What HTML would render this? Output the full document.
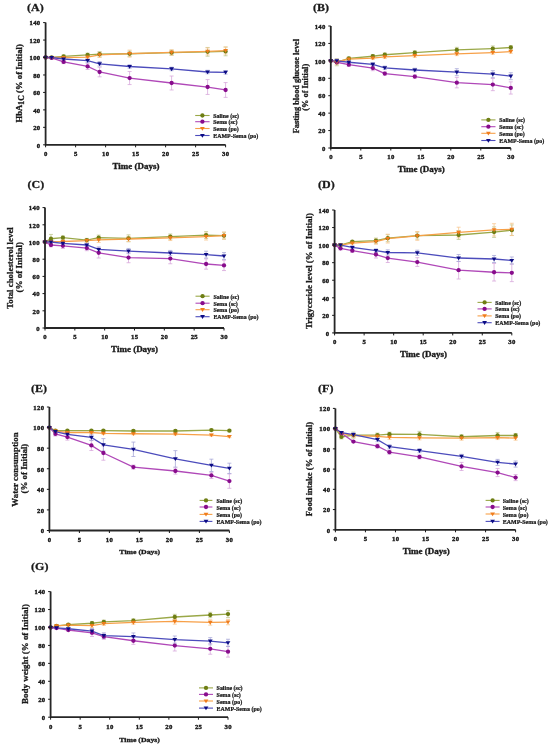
<!DOCTYPE html>
<html><head><meta charset="utf-8"><style>
html,body{margin:0;padding:0;background:#fff}
svg{display:block;filter:blur(0.3px)}
text{font-family:'Liberation Serif',serif;font-weight:bold;fill:#1a1a1a}
</style></head><body>
<svg width="550" height="749" viewBox="0 0 550 749">
<rect width="550" height="749" fill="#fff"/>
<path d="M63.6 55.07V57.69M61.6 55.07H65.6M61.6 57.69H65.6" stroke="#c0c890" stroke-width="0.8" fill="none"/>
<path d="M87.6 53.15V56.64M85.6 53.15H89.6M85.6 56.64H89.6" stroke="#c0c890" stroke-width="0.8" fill="none"/>
<path d="M99.6 51.58V56.82M97.6 51.58H101.6M97.6 56.82H101.6" stroke="#c0c890" stroke-width="0.8" fill="none"/>
<path d="M129.6 51.14V56.38M127.6 51.14H131.6M127.6 56.38H131.6" stroke="#c0c890" stroke-width="0.8" fill="none"/>
<path d="M171.6 50.09V55.33M169.6 50.09H173.6M169.6 55.33H173.6" stroke="#c0c890" stroke-width="0.8" fill="none"/>
<path d="M207.6 47.48V56.2M205.6 47.48H209.6M205.6 56.2H209.6" stroke="#c0c890" stroke-width="0.8" fill="none"/>
<path d="M225.6 47.04V55.77M223.6 47.04H227.6M223.6 55.77H227.6" stroke="#c0c890" stroke-width="0.8" fill="none"/>
<path d="M51.6 57.08V58.82M49.6 57.08H53.6M49.6 58.82H53.6" stroke="#d8a8dc" stroke-width="0.8" fill="none"/>
<path d="M63.6 60.13V63.62M61.6 60.13H65.6M61.6 63.62H65.6" stroke="#d8a8dc" stroke-width="0.8" fill="none"/>
<path d="M87.6 63.36V69.47M85.6 63.36H89.6M85.6 69.47H89.6" stroke="#d8a8dc" stroke-width="0.8" fill="none"/>
<path d="M99.6 67.2V76.8M97.6 67.2H101.6M97.6 76.8H101.6" stroke="#d8a8dc" stroke-width="0.8" fill="none"/>
<path d="M129.6 71.48V84.57M127.6 71.48H131.6M127.6 84.57H131.6" stroke="#d8a8dc" stroke-width="0.8" fill="none"/>
<path d="M171.6 76.02V89.98M169.6 76.02H173.6M169.6 89.98H173.6" stroke="#d8a8dc" stroke-width="0.8" fill="none"/>
<path d="M207.6 79.6V94.44M205.6 79.6H209.6M205.6 94.44H209.6" stroke="#d8a8dc" stroke-width="0.8" fill="none"/>
<path d="M225.6 82.57V97.4M223.6 82.57H227.6M223.6 97.4H227.6" stroke="#d8a8dc" stroke-width="0.8" fill="none"/>
<path d="M63.6 56.2V58.82M61.6 56.2H65.6M61.6 58.82H65.6" stroke="#f8c890" stroke-width="0.8" fill="none"/>
<path d="M87.6 55.33V58.82M85.6 55.33H89.6M85.6 58.82H89.6" stroke="#f8c890" stroke-width="0.8" fill="none"/>
<path d="M99.6 52.28V57.51M97.6 52.28H101.6M97.6 57.51H101.6" stroke="#f8c890" stroke-width="0.8" fill="none"/>
<path d="M129.6 50.09V57.08M127.6 50.09H131.6M127.6 57.08H131.6" stroke="#f8c890" stroke-width="0.8" fill="none"/>
<path d="M171.6 49.83V55.07M169.6 49.83H173.6M169.6 55.07H173.6" stroke="#f8c890" stroke-width="0.8" fill="none"/>
<path d="M207.6 47.91V54.9M205.6 47.91H209.6M205.6 54.9H209.6" stroke="#f8c890" stroke-width="0.8" fill="none"/>
<path d="M225.6 47.04V54.02M223.6 47.04H227.6M223.6 54.02H227.6" stroke="#f8c890" stroke-width="0.8" fill="none"/>
<path d="M63.6 57.69V60.31M61.6 57.69H65.6M61.6 60.31H65.6" stroke="#a8a8d8" stroke-width="0.8" fill="none"/>
<path d="M87.6 58.91V62.4M85.6 58.91H89.6M85.6 62.4H89.6" stroke="#a8a8d8" stroke-width="0.8" fill="none"/>
<path d="M99.6 61.62V65.98M97.6 61.62H101.6M97.6 65.98H101.6" stroke="#a8a8d8" stroke-width="0.8" fill="none"/>
<path d="M129.6 64.76V68.25M127.6 64.76H131.6M127.6 68.25H131.6" stroke="#a8a8d8" stroke-width="0.8" fill="none"/>
<path d="M171.6 67.2V70.69M169.6 67.2H173.6M169.6 70.69H173.6" stroke="#a8a8d8" stroke-width="0.8" fill="none"/>
<path d="M207.6 70.26V73.75M205.6 70.26H209.6M205.6 73.75H209.6" stroke="#a8a8d8" stroke-width="0.8" fill="none"/>
<path d="M225.6 70.61V74.1M223.6 70.61H227.6M223.6 74.1H227.6" stroke="#a8a8d8" stroke-width="0.8" fill="none"/>
<polyline points="45.6,57.51 51.6,57.51 63.6,56.38 87.6,54.9 99.6,54.2 129.6,53.76 171.6,52.71 207.6,51.84 225.6,51.4" stroke="#9aa848" stroke-width="1.3" fill="none"/>
<polyline points="45.6,57.51 51.6,57.95 63.6,61.88 87.6,66.42 99.6,72 129.6,78.03 171.6,83 207.6,87.02 225.6,89.98" stroke="#b048b8" stroke-width="1.3" fill="none"/>
<polyline points="45.6,57.51 51.6,57.51 63.6,57.51 87.6,57.08 99.6,54.9 129.6,53.59 171.6,52.45 207.6,51.4 225.6,50.53" stroke="#f7a048" stroke-width="1.3" fill="none"/>
<polyline points="45.6,57.51 51.6,57.51 63.6,59 87.6,60.66 99.6,63.8 129.6,66.5 171.6,68.95 207.6,72 225.6,72.35" stroke="#4c4cbc" stroke-width="1.3" fill="none"/>
<circle cx="45.6" cy="57.51" r="2.15" fill="#6e7e14"/>
<circle cx="51.6" cy="57.51" r="2.15" fill="#6e7e14"/>
<circle cx="63.6" cy="56.38" r="2.15" fill="#6e7e14"/>
<circle cx="87.6" cy="54.9" r="2.15" fill="#6e7e14"/>
<circle cx="99.6" cy="54.2" r="2.15" fill="#6e7e14"/>
<circle cx="129.6" cy="53.76" r="2.15" fill="#6e7e14"/>
<circle cx="171.6" cy="52.71" r="2.15" fill="#6e7e14"/>
<circle cx="207.6" cy="51.84" r="2.15" fill="#6e7e14"/>
<circle cx="225.6" cy="51.4" r="2.15" fill="#6e7e14"/>
<circle cx="45.6" cy="57.51" r="2.15" fill="#880c8c"/>
<circle cx="51.6" cy="57.95" r="2.15" fill="#880c8c"/>
<circle cx="63.6" cy="61.88" r="2.15" fill="#880c8c"/>
<circle cx="87.6" cy="66.42" r="2.15" fill="#880c8c"/>
<circle cx="99.6" cy="72" r="2.15" fill="#880c8c"/>
<circle cx="129.6" cy="78.03" r="2.15" fill="#880c8c"/>
<circle cx="171.6" cy="83" r="2.15" fill="#880c8c"/>
<circle cx="207.6" cy="87.02" r="2.15" fill="#880c8c"/>
<circle cx="225.6" cy="89.98" r="2.15" fill="#880c8c"/>
<path d="M43.2 55.91H48L45.6 59.71Z" fill="#f07c1c"/>
<path d="M49.2 55.91H54L51.6 59.71Z" fill="#f07c1c"/>
<path d="M61.2 55.91H66L63.6 59.71Z" fill="#f07c1c"/>
<path d="M85.2 55.48H90L87.6 59.28Z" fill="#f07c1c"/>
<path d="M97.2 53.3H102L99.6 57.1Z" fill="#f07c1c"/>
<path d="M127.2 51.99H132L129.6 55.79Z" fill="#f07c1c"/>
<path d="M169.2 50.85H174L171.6 54.65Z" fill="#f07c1c"/>
<path d="M205.2 49.8H210L207.6 53.6Z" fill="#f07c1c"/>
<path d="M223.2 48.93H228L225.6 52.73Z" fill="#f07c1c"/>
<path d="M43.2 55.91H48L45.6 59.71Z" fill="#0c0c84"/>
<path d="M49.2 55.91H54L51.6 59.71Z" fill="#0c0c84"/>
<path d="M61.2 57.4H66L63.6 61.2Z" fill="#0c0c84"/>
<path d="M85.2 59.06H90L87.6 62.86Z" fill="#0c0c84"/>
<path d="M97.2 62.2H102L99.6 66Z" fill="#0c0c84"/>
<path d="M127.2 64.9H132L129.6 68.7Z" fill="#0c0c84"/>
<path d="M169.2 67.35H174L171.6 71.15Z" fill="#0c0c84"/>
<path d="M205.2 70.4H210L207.6 74.2Z" fill="#0c0c84"/>
<path d="M223.2 70.75H228L225.6 74.55Z" fill="#0c0c84"/>
<path d="M45.6 22.6V144.8H225.6" stroke="#262626" stroke-width="1.8" fill="none"/>
<text transform="translate(40.53,147.58) scale(0.95,1.0)" text-anchor="end" letter-spacing="0.35" font-size="7.1" stroke="#1a1a1a" stroke-width="0.4">0</text>
<text transform="translate(40.53,130.12) scale(0.95,1.0)" text-anchor="end" letter-spacing="0.35" font-size="7.1" stroke="#1a1a1a" stroke-width="0.4">20</text>
<text transform="translate(40.53,112.66) scale(0.95,1.0)" text-anchor="end" letter-spacing="0.35" font-size="7.1" stroke="#1a1a1a" stroke-width="0.4">40</text>
<text transform="translate(40.53,95.21) scale(0.95,1.0)" text-anchor="end" letter-spacing="0.35" font-size="7.1" stroke="#1a1a1a" stroke-width="0.4">60</text>
<text transform="translate(40.53,77.75) scale(0.95,1.0)" text-anchor="end" letter-spacing="0.35" font-size="7.1" stroke="#1a1a1a" stroke-width="0.4">80</text>
<text transform="translate(40.53,60.29) scale(0.95,1.0)" text-anchor="end" letter-spacing="0.35" font-size="7.1" stroke="#1a1a1a" stroke-width="0.4">100</text>
<text transform="translate(40.53,42.84) scale(0.95,1.0)" text-anchor="end" letter-spacing="0.35" font-size="7.1" stroke="#1a1a1a" stroke-width="0.4">120</text>
<text transform="translate(40.53,25.38) scale(0.95,1.0)" text-anchor="end" letter-spacing="0.35" font-size="7.1" stroke="#1a1a1a" stroke-width="0.4">140</text>
<text transform="translate(45.77,156.18) scale(0.95,1.0)" text-anchor="middle" letter-spacing="0.35" font-size="7.1" stroke="#1a1a1a" stroke-width="0.4">0</text>
<text transform="translate(75.77,156.18) scale(0.95,1.0)" text-anchor="middle" letter-spacing="0.35" font-size="7.1" stroke="#1a1a1a" stroke-width="0.4">5</text>
<text transform="translate(105.77,156.18) scale(0.95,1.0)" text-anchor="middle" letter-spacing="0.35" font-size="7.1" stroke="#1a1a1a" stroke-width="0.4">10</text>
<text transform="translate(135.77,156.18) scale(0.95,1.0)" text-anchor="middle" letter-spacing="0.35" font-size="7.1" stroke="#1a1a1a" stroke-width="0.4">15</text>
<text transform="translate(165.77,156.18) scale(0.95,1.0)" text-anchor="middle" letter-spacing="0.35" font-size="7.1" stroke="#1a1a1a" stroke-width="0.4">20</text>
<text transform="translate(195.77,156.18) scale(0.95,1.0)" text-anchor="middle" letter-spacing="0.35" font-size="7.1" stroke="#1a1a1a" stroke-width="0.4">25</text>
<text transform="translate(225.77,156.18) scale(0.95,1.0)" text-anchor="middle" letter-spacing="0.35" font-size="7.1" stroke="#1a1a1a" stroke-width="0.4">30</text>
<path d="M43.1 144.8H45.6M43.1 127.34H45.6M43.1 109.89H45.6M43.1 92.43H45.6M43.1 74.97H45.6M43.1 57.51H45.6M43.1 40.06H45.6M43.1 22.6H45.6M45.6 144.8V147.3M75.6 144.8V147.3M105.6 144.8V147.3M135.6 144.8V147.3M165.6 144.8V147.3M195.6 144.8V147.3M225.6 144.8V147.3" stroke="#1a1a1a" stroke-width="1" fill="none"/>
<path d="M195.2 115.5H209.6" stroke="#9aa848" stroke-width="1.1"/>
<circle cx="202.4" cy="115.5" r="2.15" fill="#6e7e14"/>
<text transform="translate(213.2,118.03) scale(1.0,0.88)" font-size="5.95" stroke="#1a1a1a" stroke-width="0.25">Saline (sc)</text>
<path d="M195.2 121.7H209.6" stroke="#b048b8" stroke-width="1.1"/>
<circle cx="202.4" cy="121.7" r="2.15" fill="#880c8c"/>
<text transform="translate(213.2,124.23) scale(1.0,0.88)" font-size="5.95" stroke="#1a1a1a" stroke-width="0.25">Sema (sc)</text>
<path d="M195.2 128.5H209.6" stroke="#f7a048" stroke-width="1.1"/>
<path d="M200 126.9H204.8L202.4 130.7Z" fill="#f07c1c"/>
<text transform="translate(213.2,131.03) scale(1.0,0.88)" font-size="5.95" stroke="#1a1a1a" stroke-width="0.25">Sema (po)</text>
<path d="M195.2 135.5H209.6" stroke="#4c4cbc" stroke-width="1.1"/>
<path d="M200 133.9H204.8L202.4 137.7Z" fill="#0c0c84"/>
<text transform="translate(213.2,138.03) scale(1.0,0.88)" font-size="5.95" stroke="#1a1a1a" stroke-width="0.25">EAMP-Sema (po)</text>
<text transform="translate(136,169) scale(1.0,0.88)" text-anchor="middle" font-size="9.0" stroke="#1a1a1a" stroke-width="0.35">Time (Days)</text>
<text transform="translate(22.2,83.4) rotate(-90)" text-anchor="middle" font-size="8.7" stroke="#1a1a1a" stroke-width="0.3">HbA<tspan font-size="7.83" dy="1.9">1C</tspan><tspan dy="-1.9"> (% of Initial)</tspan></text>
<text transform="translate(27.1,11) scale(1.0,0.9)" font-size="12" stroke="#1a1a1a" stroke-width="0.3">(A)</text>
<path d="M336.8 58.77V65.74M334.8 58.77H338.8M334.8 65.74H338.8" stroke="#c0c890" stroke-width="0.8" fill="none"/>
<path d="M348.8 57.11V59.72M346.8 57.11H350.8M346.8 59.72H350.8" stroke="#c0c890" stroke-width="0.8" fill="none"/>
<path d="M372.8 54.5V57.98M370.8 54.5H374.8M370.8 57.98H374.8" stroke="#c0c890" stroke-width="0.8" fill="none"/>
<path d="M384.8 53.01V56.5M382.8 53.01H386.8M382.8 56.5H386.8" stroke="#c0c890" stroke-width="0.8" fill="none"/>
<path d="M414.8 50.84V54.32M412.8 50.84H416.8M412.8 54.32H416.8" stroke="#c0c890" stroke-width="0.8" fill="none"/>
<path d="M456.8 47.35V52.58M454.8 47.35H458.8M454.8 52.58H458.8" stroke="#c0c890" stroke-width="0.8" fill="none"/>
<path d="M492.8 45.96V51.18M490.8 45.96H494.8M490.8 51.18H494.8" stroke="#c0c890" stroke-width="0.8" fill="none"/>
<path d="M510.8 45.78V49.27M508.8 45.78H512.8M508.8 49.27H512.8" stroke="#c0c890" stroke-width="0.8" fill="none"/>
<path d="M336.8 60.51V63.99M334.8 60.51H338.8M334.8 63.99H338.8" stroke="#d8a8dc" stroke-width="0.8" fill="none"/>
<path d="M348.8 62.95V66.43M346.8 62.95H350.8M346.8 66.43H350.8" stroke="#d8a8dc" stroke-width="0.8" fill="none"/>
<path d="M372.8 65.48V70.7M370.8 65.48H374.8M370.8 70.7H374.8" stroke="#d8a8dc" stroke-width="0.8" fill="none"/>
<path d="M384.8 71.84V75.32M382.8 71.84H386.8M382.8 75.32H386.8" stroke="#d8a8dc" stroke-width="0.8" fill="none"/>
<path d="M414.8 74.8V78.29M412.8 74.8H416.8M412.8 78.29H416.8" stroke="#d8a8dc" stroke-width="0.8" fill="none"/>
<path d="M456.8 77.41V87.87M454.8 77.41H458.8M454.8 87.87H458.8" stroke="#d8a8dc" stroke-width="0.8" fill="none"/>
<path d="M492.8 78.46V90.66M490.8 78.46H494.8M490.8 90.66H494.8" stroke="#d8a8dc" stroke-width="0.8" fill="none"/>
<path d="M510.8 81.86V94.06M508.8 81.86H512.8M508.8 94.06H512.8" stroke="#d8a8dc" stroke-width="0.8" fill="none"/>
<path d="M336.8 59.11V64.34M334.8 59.11H338.8M334.8 64.34H338.8" stroke="#f8c890" stroke-width="0.8" fill="none"/>
<path d="M348.8 57.81V60.42M346.8 57.81H350.8M346.8 60.42H350.8" stroke="#f8c890" stroke-width="0.8" fill="none"/>
<path d="M372.8 56.76V59.38M370.8 56.76H374.8M370.8 59.38H374.8" stroke="#f8c890" stroke-width="0.8" fill="none"/>
<path d="M384.8 55.11V58.59M382.8 55.11H386.8M382.8 58.59H386.8" stroke="#f8c890" stroke-width="0.8" fill="none"/>
<path d="M414.8 53.89V57.37M412.8 53.89H416.8M412.8 57.37H416.8" stroke="#f8c890" stroke-width="0.8" fill="none"/>
<path d="M456.8 52.14V55.63M454.8 52.14H458.8M454.8 55.63H458.8" stroke="#f8c890" stroke-width="0.8" fill="none"/>
<path d="M492.8 50.84V54.32M490.8 50.84H494.8M490.8 54.32H494.8" stroke="#f8c890" stroke-width="0.8" fill="none"/>
<path d="M510.8 49.79V53.28M508.8 49.79H512.8M508.8 53.28H512.8" stroke="#f8c890" stroke-width="0.8" fill="none"/>
<path d="M336.8 59.11V62.6M334.8 59.11H338.8M334.8 62.6H338.8" stroke="#a8a8d8" stroke-width="0.8" fill="none"/>
<path d="M348.8 60.51V63.99M346.8 60.51H350.8M346.8 63.99H350.8" stroke="#a8a8d8" stroke-width="0.8" fill="none"/>
<path d="M372.8 62.69V66.17M370.8 62.69H374.8M370.8 66.17H374.8" stroke="#a8a8d8" stroke-width="0.8" fill="none"/>
<path d="M384.8 66.09V69.57M382.8 66.09H386.8M382.8 69.57H386.8" stroke="#a8a8d8" stroke-width="0.8" fill="none"/>
<path d="M414.8 68.26V71.75M412.8 68.26H416.8M412.8 71.75H416.8" stroke="#a8a8d8" stroke-width="0.8" fill="none"/>
<path d="M456.8 68.7V75.67M454.8 68.7H458.8M454.8 75.67H458.8" stroke="#a8a8d8" stroke-width="0.8" fill="none"/>
<path d="M492.8 70.7V77.68M490.8 70.7H494.8M490.8 77.68H494.8" stroke="#a8a8d8" stroke-width="0.8" fill="none"/>
<path d="M510.8 72.71V79.68M508.8 72.71H512.8M508.8 79.68H512.8" stroke="#a8a8d8" stroke-width="0.8" fill="none"/>
<polyline points="330.8,60.86 336.8,62.25 348.8,58.42 372.8,56.24 384.8,54.76 414.8,52.58 456.8,49.96 492.8,48.57 510.8,47.52" stroke="#9aa848" stroke-width="1.3" fill="none"/>
<polyline points="330.8,60.86 336.8,62.25 348.8,64.69 372.8,68.09 384.8,73.58 414.8,76.54 456.8,82.64 492.8,84.56 510.8,87.96" stroke="#b048b8" stroke-width="1.3" fill="none"/>
<polyline points="330.8,60.86 336.8,61.73 348.8,59.11 372.8,58.07 384.8,56.85 414.8,55.63 456.8,53.89 492.8,52.58 510.8,51.53" stroke="#f7a048" stroke-width="1.3" fill="none"/>
<polyline points="330.8,60.86 336.8,60.86 348.8,62.25 372.8,64.43 384.8,67.83 414.8,70.01 456.8,72.19 492.8,74.19 510.8,76.19" stroke="#4c4cbc" stroke-width="1.3" fill="none"/>
<circle cx="330.8" cy="60.86" r="2.15" fill="#6e7e14"/>
<circle cx="336.8" cy="62.25" r="2.15" fill="#6e7e14"/>
<circle cx="348.8" cy="58.42" r="2.15" fill="#6e7e14"/>
<circle cx="372.8" cy="56.24" r="2.15" fill="#6e7e14"/>
<circle cx="384.8" cy="54.76" r="2.15" fill="#6e7e14"/>
<circle cx="414.8" cy="52.58" r="2.15" fill="#6e7e14"/>
<circle cx="456.8" cy="49.96" r="2.15" fill="#6e7e14"/>
<circle cx="492.8" cy="48.57" r="2.15" fill="#6e7e14"/>
<circle cx="510.8" cy="47.52" r="2.15" fill="#6e7e14"/>
<circle cx="330.8" cy="60.86" r="2.15" fill="#880c8c"/>
<circle cx="336.8" cy="62.25" r="2.15" fill="#880c8c"/>
<circle cx="348.8" cy="64.69" r="2.15" fill="#880c8c"/>
<circle cx="372.8" cy="68.09" r="2.15" fill="#880c8c"/>
<circle cx="384.8" cy="73.58" r="2.15" fill="#880c8c"/>
<circle cx="414.8" cy="76.54" r="2.15" fill="#880c8c"/>
<circle cx="456.8" cy="82.64" r="2.15" fill="#880c8c"/>
<circle cx="492.8" cy="84.56" r="2.15" fill="#880c8c"/>
<circle cx="510.8" cy="87.96" r="2.15" fill="#880c8c"/>
<path d="M328.4 59.26H333.2L330.8 63.06Z" fill="#f07c1c"/>
<path d="M334.4 60.13H339.2L336.8 63.93Z" fill="#f07c1c"/>
<path d="M346.4 57.51H351.2L348.8 61.31Z" fill="#f07c1c"/>
<path d="M370.4 56.47H375.2L372.8 60.27Z" fill="#f07c1c"/>
<path d="M382.4 55.25H387.2L384.8 59.05Z" fill="#f07c1c"/>
<path d="M412.4 54.03H417.2L414.8 57.83Z" fill="#f07c1c"/>
<path d="M454.4 52.29H459.2L456.8 56.09Z" fill="#f07c1c"/>
<path d="M490.4 50.98H495.2L492.8 54.78Z" fill="#f07c1c"/>
<path d="M508.4 49.93H513.2L510.8 53.73Z" fill="#f07c1c"/>
<path d="M328.4 59.26H333.2L330.8 63.06Z" fill="#0c0c84"/>
<path d="M334.4 59.26H339.2L336.8 63.06Z" fill="#0c0c84"/>
<path d="M346.4 60.65H351.2L348.8 64.45Z" fill="#0c0c84"/>
<path d="M370.4 62.83H375.2L372.8 66.63Z" fill="#0c0c84"/>
<path d="M382.4 66.23H387.2L384.8 70.03Z" fill="#0c0c84"/>
<path d="M412.4 68.41H417.2L414.8 72.21Z" fill="#0c0c84"/>
<path d="M454.4 70.59H459.2L456.8 74.39Z" fill="#0c0c84"/>
<path d="M490.4 72.59H495.2L492.8 76.39Z" fill="#0c0c84"/>
<path d="M508.4 74.59H513.2L510.8 78.39Z" fill="#0c0c84"/>
<path d="M330.8 26V148H510.8" stroke="#262626" stroke-width="1.8" fill="none"/>
<text transform="translate(325.73,150.78) scale(0.95,1.0)" text-anchor="end" letter-spacing="0.35" font-size="7.1" stroke="#1a1a1a" stroke-width="0.4">0</text>
<text transform="translate(325.73,133.35) scale(0.95,1.0)" text-anchor="end" letter-spacing="0.35" font-size="7.1" stroke="#1a1a1a" stroke-width="0.4">20</text>
<text transform="translate(325.73,115.92) scale(0.95,1.0)" text-anchor="end" letter-spacing="0.35" font-size="7.1" stroke="#1a1a1a" stroke-width="0.4">40</text>
<text transform="translate(325.73,98.49) scale(0.95,1.0)" text-anchor="end" letter-spacing="0.35" font-size="7.1" stroke="#1a1a1a" stroke-width="0.4">60</text>
<text transform="translate(325.73,81.06) scale(0.95,1.0)" text-anchor="end" letter-spacing="0.35" font-size="7.1" stroke="#1a1a1a" stroke-width="0.4">80</text>
<text transform="translate(325.73,63.64) scale(0.95,1.0)" text-anchor="end" letter-spacing="0.35" font-size="7.1" stroke="#1a1a1a" stroke-width="0.4">100</text>
<text transform="translate(325.73,46.21) scale(0.95,1.0)" text-anchor="end" letter-spacing="0.35" font-size="7.1" stroke="#1a1a1a" stroke-width="0.4">120</text>
<text transform="translate(325.73,28.78) scale(0.95,1.0)" text-anchor="end" letter-spacing="0.35" font-size="7.1" stroke="#1a1a1a" stroke-width="0.4">140</text>
<text transform="translate(330.97,159.38) scale(0.95,1.0)" text-anchor="middle" letter-spacing="0.35" font-size="7.1" stroke="#1a1a1a" stroke-width="0.4">0</text>
<text transform="translate(360.97,159.38) scale(0.95,1.0)" text-anchor="middle" letter-spacing="0.35" font-size="7.1" stroke="#1a1a1a" stroke-width="0.4">5</text>
<text transform="translate(390.97,159.38) scale(0.95,1.0)" text-anchor="middle" letter-spacing="0.35" font-size="7.1" stroke="#1a1a1a" stroke-width="0.4">10</text>
<text transform="translate(420.97,159.38) scale(0.95,1.0)" text-anchor="middle" letter-spacing="0.35" font-size="7.1" stroke="#1a1a1a" stroke-width="0.4">15</text>
<text transform="translate(450.97,159.38) scale(0.95,1.0)" text-anchor="middle" letter-spacing="0.35" font-size="7.1" stroke="#1a1a1a" stroke-width="0.4">20</text>
<text transform="translate(480.97,159.38) scale(0.95,1.0)" text-anchor="middle" letter-spacing="0.35" font-size="7.1" stroke="#1a1a1a" stroke-width="0.4">25</text>
<text transform="translate(510.97,159.38) scale(0.95,1.0)" text-anchor="middle" letter-spacing="0.35" font-size="7.1" stroke="#1a1a1a" stroke-width="0.4">30</text>
<path d="M328.3 148H330.8M328.3 130.57H330.8M328.3 113.14H330.8M328.3 95.71H330.8M328.3 78.29H330.8M328.3 60.86H330.8M328.3 43.43H330.8M328.3 26H330.8M330.8 148V150.5M360.8 148V150.5M390.8 148V150.5M420.8 148V150.5M450.8 148V150.5M480.8 148V150.5M510.8 148V150.5" stroke="#1a1a1a" stroke-width="1" fill="none"/>
<path d="M481.3 119.9H495.5" stroke="#9aa848" stroke-width="1.1"/>
<circle cx="488.4" cy="119.9" r="2.15" fill="#6e7e14"/>
<text transform="translate(499.2,122.43) scale(1.0,0.88)" font-size="5.95" stroke="#1a1a1a" stroke-width="0.25">Saline (sc)</text>
<path d="M481.3 126.7H495.5" stroke="#b048b8" stroke-width="1.1"/>
<circle cx="488.4" cy="126.7" r="2.15" fill="#880c8c"/>
<text transform="translate(499.2,129.23) scale(1.0,0.88)" font-size="5.95" stroke="#1a1a1a" stroke-width="0.25">Sema (sc)</text>
<path d="M481.3 133.3H495.5" stroke="#f7a048" stroke-width="1.1"/>
<path d="M486 131.7H490.8L488.4 135.5Z" fill="#f07c1c"/>
<text transform="translate(499.2,135.83) scale(1.0,0.88)" font-size="5.95" stroke="#1a1a1a" stroke-width="0.25">Sema (po)</text>
<path d="M481.3 140.5H495.5" stroke="#4c4cbc" stroke-width="1.1"/>
<path d="M486 138.9H490.8L488.4 142.7Z" fill="#0c0c84"/>
<text transform="translate(499.2,143.03) scale(1.0,0.88)" font-size="5.95" stroke="#1a1a1a" stroke-width="0.25">EAMP-Sema (po)</text>
<text transform="translate(421.2,172) scale(1.0,0.88)" text-anchor="middle" font-size="9.0" stroke="#1a1a1a" stroke-width="0.35">Time (Days)</text>
<text transform="translate(298.9,86.1) rotate(-90)" text-anchor="middle" font-size="8.3" stroke="#1a1a1a" stroke-width="0.3">Fasting blood glucose level</text>
<text transform="translate(307.5,87.3) rotate(-90)" text-anchor="middle" font-size="8.4" stroke="#1a1a1a" stroke-width="0.3">(% of Initial)</text>
<text transform="translate(313.1,11) scale(1.0,0.9)" font-size="12" stroke="#1a1a1a" stroke-width="0.3">(B)</text>
<path d="M50.97 234.43V243.03M48.97 234.43H52.97M48.97 243.03H52.97" stroke="#c0c890" stroke-width="0.8" fill="none"/>
<path d="M62.9 235.98V239.42M60.9 235.98H64.9M60.9 239.42H64.9" stroke="#c0c890" stroke-width="0.8" fill="none"/>
<path d="M86.77 238.39V241.83M84.77 238.39H88.77M84.77 241.83H88.77" stroke="#c0c890" stroke-width="0.8" fill="none"/>
<path d="M98.7 235.12V240.28M96.7 235.12H100.7M96.7 240.28H100.7" stroke="#c0c890" stroke-width="0.8" fill="none"/>
<path d="M128.53 234.86V241.74M126.53 234.86H130.53M126.53 241.74H130.53" stroke="#c0c890" stroke-width="0.8" fill="none"/>
<path d="M170.3 234V239.16M168.3 234H172.3M168.3 239.16H172.3" stroke="#c0c890" stroke-width="0.8" fill="none"/>
<path d="M206.1 231.59V238.47M204.1 231.59H208.1M204.1 238.47H208.1" stroke="#c0c890" stroke-width="0.8" fill="none"/>
<path d="M224 232.2V239.08M222 232.2H226M222 239.08H226" stroke="#c0c890" stroke-width="0.8" fill="none"/>
<path d="M50.97 243.29V246.73M48.97 243.29H52.97M48.97 246.73H52.97" stroke="#d8a8dc" stroke-width="0.8" fill="none"/>
<path d="M62.9 243.29V248.45M60.9 243.29H64.9M60.9 248.45H64.9" stroke="#d8a8dc" stroke-width="0.8" fill="none"/>
<path d="M86.77 245.53V250.69M84.77 245.53H88.77M84.77 250.69H88.77" stroke="#d8a8dc" stroke-width="0.8" fill="none"/>
<path d="M98.7 247.68V258M96.7 247.68H100.7M96.7 258H100.7" stroke="#d8a8dc" stroke-width="0.8" fill="none"/>
<path d="M128.53 252.41V262.73M126.53 252.41H130.53M126.53 262.73H130.53" stroke="#d8a8dc" stroke-width="0.8" fill="none"/>
<path d="M170.3 253.44V263.76M168.3 253.44H172.3M168.3 263.76H172.3" stroke="#d8a8dc" stroke-width="0.8" fill="none"/>
<path d="M206.1 258.86V269.18M204.1 258.86H208.1M204.1 269.18H208.1" stroke="#d8a8dc" stroke-width="0.8" fill="none"/>
<path d="M224 260.23V270.55M222 260.23H226M222 270.55H226" stroke="#d8a8dc" stroke-width="0.8" fill="none"/>
<path d="M50.97 239.85V243.29M48.97 239.85H52.97M48.97 243.29H52.97" stroke="#f8c890" stroke-width="0.8" fill="none"/>
<path d="M62.9 239.76V243.2M60.9 239.76H64.9M60.9 243.2H64.9" stroke="#f8c890" stroke-width="0.8" fill="none"/>
<path d="M86.77 238.9V242.34M84.77 238.9H88.77M84.77 242.34H88.77" stroke="#f8c890" stroke-width="0.8" fill="none"/>
<path d="M98.7 237.36V242.52M96.7 237.36H100.7M96.7 242.52H100.7" stroke="#f8c890" stroke-width="0.8" fill="none"/>
<path d="M128.53 236.41V241.57M126.53 236.41H130.53M126.53 241.57H130.53" stroke="#f8c890" stroke-width="0.8" fill="none"/>
<path d="M170.3 235.38V240.54M168.3 235.38H172.3M168.3 240.54H172.3" stroke="#f8c890" stroke-width="0.8" fill="none"/>
<path d="M206.1 233.14V240.02M204.1 233.14H208.1M204.1 240.02H208.1" stroke="#f8c890" stroke-width="0.8" fill="none"/>
<path d="M224 232.2V239.08M222 232.2H226M222 239.08H226" stroke="#f8c890" stroke-width="0.8" fill="none"/>
<path d="M50.97 240.28V243.72M48.97 240.28H52.97M48.97 243.72H52.97" stroke="#a8a8d8" stroke-width="0.8" fill="none"/>
<path d="M62.9 241.74V245.18M60.9 241.74H64.9M60.9 245.18H64.9" stroke="#a8a8d8" stroke-width="0.8" fill="none"/>
<path d="M86.77 243.29V246.73M84.77 243.29H88.77M84.77 246.73H88.77" stroke="#a8a8d8" stroke-width="0.8" fill="none"/>
<path d="M98.7 246.9V252.06M96.7 246.9H100.7M96.7 252.06H100.7" stroke="#a8a8d8" stroke-width="0.8" fill="none"/>
<path d="M128.53 248.45V253.61M126.53 248.45H130.53M126.53 253.61H130.53" stroke="#a8a8d8" stroke-width="0.8" fill="none"/>
<path d="M170.3 250.43V255.59M168.3 250.43H172.3M168.3 255.59H172.3" stroke="#a8a8d8" stroke-width="0.8" fill="none"/>
<path d="M206.1 251.2V258.08M204.1 251.2H208.1M204.1 258.08H208.1" stroke="#a8a8d8" stroke-width="0.8" fill="none"/>
<path d="M224 252.58V259.46M222 252.58H226M222 259.46H226" stroke="#a8a8d8" stroke-width="0.8" fill="none"/>
<polyline points="45,242 50.97,238.73 62.9,237.7 86.77,240.11 98.7,237.7 128.53,238.3 170.3,236.58 206.1,235.03 224,235.64" stroke="#9aa848" stroke-width="1.3" fill="none"/>
<polyline points="45,242 50.97,245.01 62.9,245.87 86.77,248.11 98.7,252.84 128.53,257.57 170.3,258.6 206.1,264.02 224,265.39" stroke="#b048b8" stroke-width="1.3" fill="none"/>
<polyline points="45,242 50.97,241.57 62.9,241.48 86.77,240.62 98.7,239.94 128.53,238.99 170.3,237.96 206.1,236.58 224,235.64" stroke="#f7a048" stroke-width="1.3" fill="none"/>
<polyline points="45,242 50.97,242 62.9,243.46 86.77,245.01 98.7,249.48 128.53,251.03 170.3,253.01 206.1,254.64 224,256.02" stroke="#4c4cbc" stroke-width="1.3" fill="none"/>
<circle cx="45" cy="242" r="2.15" fill="#6e7e14"/>
<circle cx="50.97" cy="238.73" r="2.15" fill="#6e7e14"/>
<circle cx="62.9" cy="237.7" r="2.15" fill="#6e7e14"/>
<circle cx="86.77" cy="240.11" r="2.15" fill="#6e7e14"/>
<circle cx="98.7" cy="237.7" r="2.15" fill="#6e7e14"/>
<circle cx="128.53" cy="238.3" r="2.15" fill="#6e7e14"/>
<circle cx="170.3" cy="236.58" r="2.15" fill="#6e7e14"/>
<circle cx="206.1" cy="235.03" r="2.15" fill="#6e7e14"/>
<circle cx="224" cy="235.64" r="2.15" fill="#6e7e14"/>
<circle cx="45" cy="242" r="2.15" fill="#880c8c"/>
<circle cx="50.97" cy="245.01" r="2.15" fill="#880c8c"/>
<circle cx="62.9" cy="245.87" r="2.15" fill="#880c8c"/>
<circle cx="86.77" cy="248.11" r="2.15" fill="#880c8c"/>
<circle cx="98.7" cy="252.84" r="2.15" fill="#880c8c"/>
<circle cx="128.53" cy="257.57" r="2.15" fill="#880c8c"/>
<circle cx="170.3" cy="258.6" r="2.15" fill="#880c8c"/>
<circle cx="206.1" cy="264.02" r="2.15" fill="#880c8c"/>
<circle cx="224" cy="265.39" r="2.15" fill="#880c8c"/>
<path d="M42.6 240.4H47.4L45 244.2Z" fill="#f07c1c"/>
<path d="M48.57 239.97H53.37L50.97 243.77Z" fill="#f07c1c"/>
<path d="M60.5 239.88H65.3L62.9 243.68Z" fill="#f07c1c"/>
<path d="M84.37 239.02H89.17L86.77 242.82Z" fill="#f07c1c"/>
<path d="M96.3 238.34H101.1L98.7 242.14Z" fill="#f07c1c"/>
<path d="M126.13 237.39H130.93L128.53 241.19Z" fill="#f07c1c"/>
<path d="M167.9 236.36H172.7L170.3 240.16Z" fill="#f07c1c"/>
<path d="M203.7 234.98H208.5L206.1 238.78Z" fill="#f07c1c"/>
<path d="M221.6 234.04H226.4L224 237.84Z" fill="#f07c1c"/>
<path d="M42.6 240.4H47.4L45 244.2Z" fill="#0c0c84"/>
<path d="M48.57 240.4H53.37L50.97 244.2Z" fill="#0c0c84"/>
<path d="M60.5 241.86H65.3L62.9 245.66Z" fill="#0c0c84"/>
<path d="M84.37 243.41H89.17L86.77 247.21Z" fill="#0c0c84"/>
<path d="M96.3 247.88H101.1L98.7 251.68Z" fill="#0c0c84"/>
<path d="M126.13 249.43H130.93L128.53 253.23Z" fill="#0c0c84"/>
<path d="M167.9 251.41H172.7L170.3 255.21Z" fill="#0c0c84"/>
<path d="M203.7 253.04H208.5L206.1 256.84Z" fill="#0c0c84"/>
<path d="M221.6 254.42H226.4L224 258.22Z" fill="#0c0c84"/>
<path d="M45 207.6V328H224" stroke="#262626" stroke-width="1.8" fill="none"/>
<text transform="translate(39.93,330.78) scale(0.95,1.0)" text-anchor="end" letter-spacing="0.35" font-size="7.1" stroke="#1a1a1a" stroke-width="0.4">0</text>
<text transform="translate(39.93,313.58) scale(0.95,1.0)" text-anchor="end" letter-spacing="0.35" font-size="7.1" stroke="#1a1a1a" stroke-width="0.4">20</text>
<text transform="translate(39.93,296.38) scale(0.95,1.0)" text-anchor="end" letter-spacing="0.35" font-size="7.1" stroke="#1a1a1a" stroke-width="0.4">40</text>
<text transform="translate(39.93,279.18) scale(0.95,1.0)" text-anchor="end" letter-spacing="0.35" font-size="7.1" stroke="#1a1a1a" stroke-width="0.4">60</text>
<text transform="translate(39.93,261.98) scale(0.95,1.0)" text-anchor="end" letter-spacing="0.35" font-size="7.1" stroke="#1a1a1a" stroke-width="0.4">80</text>
<text transform="translate(39.93,244.78) scale(0.95,1.0)" text-anchor="end" letter-spacing="0.35" font-size="7.1" stroke="#1a1a1a" stroke-width="0.4">100</text>
<text transform="translate(39.93,227.58) scale(0.95,1.0)" text-anchor="end" letter-spacing="0.35" font-size="7.1" stroke="#1a1a1a" stroke-width="0.4">120</text>
<text transform="translate(39.93,210.38) scale(0.95,1.0)" text-anchor="end" letter-spacing="0.35" font-size="7.1" stroke="#1a1a1a" stroke-width="0.4">140</text>
<text transform="translate(45.17,339.38) scale(0.95,1.0)" text-anchor="middle" letter-spacing="0.35" font-size="7.1" stroke="#1a1a1a" stroke-width="0.4">0</text>
<text transform="translate(75,339.38) scale(0.95,1.0)" text-anchor="middle" letter-spacing="0.35" font-size="7.1" stroke="#1a1a1a" stroke-width="0.4">5</text>
<text transform="translate(104.83,339.38) scale(0.95,1.0)" text-anchor="middle" letter-spacing="0.35" font-size="7.1" stroke="#1a1a1a" stroke-width="0.4">10</text>
<text transform="translate(134.67,339.38) scale(0.95,1.0)" text-anchor="middle" letter-spacing="0.35" font-size="7.1" stroke="#1a1a1a" stroke-width="0.4">15</text>
<text transform="translate(164.5,339.38) scale(0.95,1.0)" text-anchor="middle" letter-spacing="0.35" font-size="7.1" stroke="#1a1a1a" stroke-width="0.4">20</text>
<text transform="translate(194.33,339.38) scale(0.95,1.0)" text-anchor="middle" letter-spacing="0.35" font-size="7.1" stroke="#1a1a1a" stroke-width="0.4">25</text>
<text transform="translate(224.17,339.38) scale(0.95,1.0)" text-anchor="middle" letter-spacing="0.35" font-size="7.1" stroke="#1a1a1a" stroke-width="0.4">30</text>
<path d="M42.5 328H45M42.5 310.8H45M42.5 293.6H45M42.5 276.4H45M42.5 259.2H45M42.5 242H45M42.5 224.8H45M42.5 207.6H45M45 328V330.5M74.83 328V330.5M104.67 328V330.5M134.5 328V330.5M164.33 328V330.5M194.17 328V330.5M224 328V330.5" stroke="#1a1a1a" stroke-width="1" fill="none"/>
<path d="M195.5 296.2H209.6" stroke="#9aa848" stroke-width="1.1"/>
<circle cx="202.55" cy="296.2" r="2.15" fill="#6e7e14"/>
<text transform="translate(213.4,298.73) scale(1.0,0.88)" font-size="5.95" stroke="#1a1a1a" stroke-width="0.25">Saline (sc)</text>
<path d="M195.5 303.2H209.6" stroke="#b048b8" stroke-width="1.1"/>
<circle cx="202.55" cy="303.2" r="2.15" fill="#880c8c"/>
<text transform="translate(213.4,305.73) scale(1.0,0.88)" font-size="5.95" stroke="#1a1a1a" stroke-width="0.25">Sema (sc)</text>
<path d="M195.5 309.7H209.6" stroke="#f7a048" stroke-width="1.1"/>
<path d="M200.15 308.1H204.95L202.55 311.9Z" fill="#f07c1c"/>
<text transform="translate(213.4,312.23) scale(1.0,0.88)" font-size="5.95" stroke="#1a1a1a" stroke-width="0.25">Sema (po)</text>
<path d="M195.5 316.7H209.6" stroke="#4c4cbc" stroke-width="1.1"/>
<path d="M200.15 315.1H204.95L202.55 318.9Z" fill="#0c0c84"/>
<text transform="translate(213.4,319.23) scale(1.0,0.88)" font-size="5.95" stroke="#1a1a1a" stroke-width="0.25">EAMP-Sema (po)</text>
<text transform="translate(134.6,351.6) scale(1.0,0.88)" text-anchor="middle" font-size="9.0" stroke="#1a1a1a" stroke-width="0.35">Time (Days)</text>
<text transform="translate(13.3,268) rotate(-90)" text-anchor="middle" font-size="8.85" stroke="#1a1a1a" stroke-width="0.3">Total cholesterol level</text>
<text transform="translate(22.1,267.2) rotate(-90)" text-anchor="middle" font-size="9.0" stroke="#1a1a1a" stroke-width="0.3">(% of Initial)</text>
<text transform="translate(27.5,188) scale(1.0,0.9)" font-size="12" stroke="#1a1a1a" stroke-width="0.3">(C)</text>
<path d="M340.51 244.24V245.99M338.51 244.24H342.51M338.51 245.99H342.51" stroke="#c0c890" stroke-width="0.8" fill="none"/>
<path d="M352.32 240.72V242.48M350.32 240.72H354.32M350.32 242.48H354.32" stroke="#c0c890" stroke-width="0.8" fill="none"/>
<path d="M375.95 238.09V243.36M373.95 238.09H377.95M373.95 243.36H377.95" stroke="#c0c890" stroke-width="0.8" fill="none"/>
<path d="M387.76 234.67V241.69M385.76 234.67H389.76M385.76 241.69H389.76" stroke="#c0c890" stroke-width="0.8" fill="none"/>
<path d="M417.29 232.12V239.14M415.29 232.12H419.29M415.29 239.14H419.29" stroke="#c0c890" stroke-width="0.8" fill="none"/>
<path d="M458.64 230.63V239.41M456.64 230.63H460.64M456.64 239.41H460.64" stroke="#c0c890" stroke-width="0.8" fill="none"/>
<path d="M494.08 226.85V237.39M492.08 226.85H496.08M492.08 237.39H496.08" stroke="#c0c890" stroke-width="0.8" fill="none"/>
<path d="M511.8 224.92V235.46M509.8 224.92H513.8M509.8 235.46H513.8" stroke="#c0c890" stroke-width="0.8" fill="none"/>
<path d="M340.51 246.61V250.12M338.51 246.61H342.51M338.51 250.12H342.51" stroke="#d8a8dc" stroke-width="0.8" fill="none"/>
<path d="M352.32 248.89V252.4M350.32 248.89H354.32M350.32 252.4H354.32" stroke="#d8a8dc" stroke-width="0.8" fill="none"/>
<path d="M375.95 251V258.02M373.95 251H377.95M373.95 258.02H377.95" stroke="#d8a8dc" stroke-width="0.8" fill="none"/>
<path d="M387.76 253.72V262.5M385.76 253.72H389.76M385.76 262.5H389.76" stroke="#d8a8dc" stroke-width="0.8" fill="none"/>
<path d="M417.29 257.67V266.45M415.29 257.67H419.29M415.29 266.45H419.29" stroke="#d8a8dc" stroke-width="0.8" fill="none"/>
<path d="M458.64 261.44V279M456.64 261.44H460.64M456.64 279H460.64" stroke="#d8a8dc" stroke-width="0.8" fill="none"/>
<path d="M494.08 263.46V281.02M492.08 263.46H496.08M492.08 281.02H496.08" stroke="#d8a8dc" stroke-width="0.8" fill="none"/>
<path d="M511.8 264.08V281.63M509.8 264.08H513.8M509.8 281.63H513.8" stroke="#d8a8dc" stroke-width="0.8" fill="none"/>
<path d="M340.51 244.24V245.99M338.51 244.24H342.51M338.51 245.99H342.51" stroke="#f8c890" stroke-width="0.8" fill="none"/>
<path d="M352.32 242.31V244.06M350.32 242.31H354.32M350.32 244.06H354.32" stroke="#f8c890" stroke-width="0.8" fill="none"/>
<path d="M375.95 238.97V244.24M373.95 238.97H377.95M373.95 244.24H377.95" stroke="#f8c890" stroke-width="0.8" fill="none"/>
<path d="M387.76 234.23V243.01M385.76 234.23H389.76M385.76 243.01H389.76" stroke="#f8c890" stroke-width="0.8" fill="none"/>
<path d="M417.29 231.51V240.29M415.29 231.51H419.29M415.29 240.29H419.29" stroke="#f8c890" stroke-width="0.8" fill="none"/>
<path d="M458.64 227.21V237.74M456.64 227.21H460.64M456.64 237.74H460.64" stroke="#f8c890" stroke-width="0.8" fill="none"/>
<path d="M494.08 223.69V235.98M492.08 223.69H496.08M492.08 235.98H496.08" stroke="#f8c890" stroke-width="0.8" fill="none"/>
<path d="M511.8 223.26V235.55M509.8 223.26H513.8M509.8 235.55H513.8" stroke="#f8c890" stroke-width="0.8" fill="none"/>
<path d="M340.51 244.24V245.99M338.51 244.24H342.51M338.51 245.99H342.51" stroke="#a8a8d8" stroke-width="0.8" fill="none"/>
<path d="M352.32 245.73V249.24M350.32 245.73H354.32M350.32 249.24H354.32" stroke="#a8a8d8" stroke-width="0.8" fill="none"/>
<path d="M375.95 248.89V252.4M373.95 248.89H377.95M373.95 252.4H377.95" stroke="#a8a8d8" stroke-width="0.8" fill="none"/>
<path d="M387.76 249.85V255.12M385.76 249.85H389.76M385.76 255.12H389.76" stroke="#a8a8d8" stroke-width="0.8" fill="none"/>
<path d="M417.29 250.21V255.47M415.29 250.21H419.29M415.29 255.47H419.29" stroke="#a8a8d8" stroke-width="0.8" fill="none"/>
<path d="M458.64 254.51V261.53M456.64 254.51H460.64M456.64 261.53H460.64" stroke="#a8a8d8" stroke-width="0.8" fill="none"/>
<path d="M494.08 255.47V262.5M492.08 255.47H496.08M492.08 262.5H496.08" stroke="#a8a8d8" stroke-width="0.8" fill="none"/>
<path d="M511.8 256.97V263.99M509.8 256.97H513.8M509.8 263.99H513.8" stroke="#a8a8d8" stroke-width="0.8" fill="none"/>
<polyline points="334.6,245.11 340.51,245.11 352.32,241.6 375.95,240.72 387.76,238.18 417.29,235.63 458.64,235.02 494.08,232.12 511.8,230.19" stroke="#9aa848" stroke-width="1.3" fill="none"/>
<polyline points="334.6,245.11 340.51,248.36 352.32,250.64 375.95,254.51 387.76,258.11 417.29,262.06 458.64,270.22 494.08,272.24 511.8,272.85" stroke="#b048b8" stroke-width="1.3" fill="none"/>
<polyline points="334.6,245.11 340.51,245.11 352.32,243.18 375.95,241.6 387.76,238.62 417.29,235.9 458.64,232.47 494.08,229.84 511.8,229.4" stroke="#f7a048" stroke-width="1.3" fill="none"/>
<polyline points="334.6,245.11 340.51,245.11 352.32,247.48 375.95,250.64 387.76,252.49 417.29,252.84 458.64,258.02 494.08,258.98 511.8,260.48" stroke="#4c4cbc" stroke-width="1.3" fill="none"/>
<circle cx="334.6" cy="245.11" r="2.15" fill="#6e7e14"/>
<circle cx="340.51" cy="245.11" r="2.15" fill="#6e7e14"/>
<circle cx="352.32" cy="241.6" r="2.15" fill="#6e7e14"/>
<circle cx="375.95" cy="240.72" r="2.15" fill="#6e7e14"/>
<circle cx="387.76" cy="238.18" r="2.15" fill="#6e7e14"/>
<circle cx="417.29" cy="235.63" r="2.15" fill="#6e7e14"/>
<circle cx="458.64" cy="235.02" r="2.15" fill="#6e7e14"/>
<circle cx="494.08" cy="232.12" r="2.15" fill="#6e7e14"/>
<circle cx="511.8" cy="230.19" r="2.15" fill="#6e7e14"/>
<circle cx="334.6" cy="245.11" r="2.15" fill="#880c8c"/>
<circle cx="340.51" cy="248.36" r="2.15" fill="#880c8c"/>
<circle cx="352.32" cy="250.64" r="2.15" fill="#880c8c"/>
<circle cx="375.95" cy="254.51" r="2.15" fill="#880c8c"/>
<circle cx="387.76" cy="258.11" r="2.15" fill="#880c8c"/>
<circle cx="417.29" cy="262.06" r="2.15" fill="#880c8c"/>
<circle cx="458.64" cy="270.22" r="2.15" fill="#880c8c"/>
<circle cx="494.08" cy="272.24" r="2.15" fill="#880c8c"/>
<circle cx="511.8" cy="272.85" r="2.15" fill="#880c8c"/>
<path d="M332.2 243.51H337L334.6 247.31Z" fill="#f07c1c"/>
<path d="M338.11 243.51H342.91L340.51 247.31Z" fill="#f07c1c"/>
<path d="M349.92 241.58H354.72L352.32 245.38Z" fill="#f07c1c"/>
<path d="M373.55 240H378.35L375.95 243.8Z" fill="#f07c1c"/>
<path d="M385.36 237.02H390.16L387.76 240.82Z" fill="#f07c1c"/>
<path d="M414.89 234.3H419.69L417.29 238.1Z" fill="#f07c1c"/>
<path d="M456.24 230.87H461.04L458.64 234.67Z" fill="#f07c1c"/>
<path d="M491.68 228.24H496.48L494.08 232.04Z" fill="#f07c1c"/>
<path d="M509.4 227.8H514.2L511.8 231.6Z" fill="#f07c1c"/>
<path d="M332.2 243.51H337L334.6 247.31Z" fill="#0c0c84"/>
<path d="M338.11 243.51H342.91L340.51 247.31Z" fill="#0c0c84"/>
<path d="M349.92 245.88H354.72L352.32 249.68Z" fill="#0c0c84"/>
<path d="M373.55 249.04H378.35L375.95 252.84Z" fill="#0c0c84"/>
<path d="M385.36 250.89H390.16L387.76 254.69Z" fill="#0c0c84"/>
<path d="M414.89 251.24H419.69L417.29 255.04Z" fill="#0c0c84"/>
<path d="M456.24 256.42H461.04L458.64 260.22Z" fill="#0c0c84"/>
<path d="M491.68 257.38H496.48L494.08 261.18Z" fill="#0c0c84"/>
<path d="M509.4 258.88H514.2L511.8 262.68Z" fill="#0c0c84"/>
<path d="M334.6 210V332.9H511.8" stroke="#262626" stroke-width="1.8" fill="none"/>
<text transform="translate(329.53,335.68) scale(0.95,1.0)" text-anchor="end" letter-spacing="0.35" font-size="7.1" stroke="#1a1a1a" stroke-width="0.4">0</text>
<text transform="translate(329.53,318.12) scale(0.95,1.0)" text-anchor="end" letter-spacing="0.35" font-size="7.1" stroke="#1a1a1a" stroke-width="0.4">20</text>
<text transform="translate(329.53,300.56) scale(0.95,1.0)" text-anchor="end" letter-spacing="0.35" font-size="7.1" stroke="#1a1a1a" stroke-width="0.4">40</text>
<text transform="translate(329.53,283.01) scale(0.95,1.0)" text-anchor="end" letter-spacing="0.35" font-size="7.1" stroke="#1a1a1a" stroke-width="0.4">60</text>
<text transform="translate(329.53,265.45) scale(0.95,1.0)" text-anchor="end" letter-spacing="0.35" font-size="7.1" stroke="#1a1a1a" stroke-width="0.4">80</text>
<text transform="translate(329.53,247.89) scale(0.95,1.0)" text-anchor="end" letter-spacing="0.35" font-size="7.1" stroke="#1a1a1a" stroke-width="0.4">100</text>
<text transform="translate(329.53,230.34) scale(0.95,1.0)" text-anchor="end" letter-spacing="0.35" font-size="7.1" stroke="#1a1a1a" stroke-width="0.4">120</text>
<text transform="translate(329.53,212.78) scale(0.95,1.0)" text-anchor="end" letter-spacing="0.35" font-size="7.1" stroke="#1a1a1a" stroke-width="0.4">140</text>
<text transform="translate(334.77,344.28) scale(0.95,1.0)" text-anchor="middle" letter-spacing="0.35" font-size="7.1" stroke="#1a1a1a" stroke-width="0.4">0</text>
<text transform="translate(364.3,344.28) scale(0.95,1.0)" text-anchor="middle" letter-spacing="0.35" font-size="7.1" stroke="#1a1a1a" stroke-width="0.4">5</text>
<text transform="translate(393.83,344.28) scale(0.95,1.0)" text-anchor="middle" letter-spacing="0.35" font-size="7.1" stroke="#1a1a1a" stroke-width="0.4">10</text>
<text transform="translate(423.37,344.28) scale(0.95,1.0)" text-anchor="middle" letter-spacing="0.35" font-size="7.1" stroke="#1a1a1a" stroke-width="0.4">15</text>
<text transform="translate(452.9,344.28) scale(0.95,1.0)" text-anchor="middle" letter-spacing="0.35" font-size="7.1" stroke="#1a1a1a" stroke-width="0.4">20</text>
<text transform="translate(482.43,344.28) scale(0.95,1.0)" text-anchor="middle" letter-spacing="0.35" font-size="7.1" stroke="#1a1a1a" stroke-width="0.4">25</text>
<text transform="translate(511.97,344.28) scale(0.95,1.0)" text-anchor="middle" letter-spacing="0.35" font-size="7.1" stroke="#1a1a1a" stroke-width="0.4">30</text>
<path d="M332.1 332.9H334.6M332.1 315.34H334.6M332.1 297.79H334.6M332.1 280.23H334.6M332.1 262.67H334.6M332.1 245.11H334.6M332.1 227.56H334.6M332.1 210H334.6M334.6 332.9V335.4M364.13 332.9V335.4M393.67 332.9V335.4M423.2 332.9V335.4M452.73 332.9V335.4M482.27 332.9V335.4M511.8 332.9V335.4" stroke="#1a1a1a" stroke-width="1" fill="none"/>
<path d="M477.5 302.4H491.7" stroke="#9aa848" stroke-width="1.1"/>
<circle cx="484.6" cy="302.4" r="2.15" fill="#6e7e14"/>
<text transform="translate(495.3,304.93) scale(1.0,0.88)" font-size="5.95" stroke="#1a1a1a" stroke-width="0.25">Saline (sc)</text>
<path d="M477.5 308.9H491.7" stroke="#b048b8" stroke-width="1.1"/>
<circle cx="484.6" cy="308.9" r="2.15" fill="#880c8c"/>
<text transform="translate(495.3,311.43) scale(1.0,0.88)" font-size="5.95" stroke="#1a1a1a" stroke-width="0.25">Sema (sc)</text>
<path d="M477.5 315.9H491.7" stroke="#f7a048" stroke-width="1.1"/>
<path d="M482.2 314.3H487L484.6 318.1Z" fill="#f07c1c"/>
<text transform="translate(495.3,318.43) scale(1.0,0.88)" font-size="5.95" stroke="#1a1a1a" stroke-width="0.25">Sema (po)</text>
<path d="M477.5 322.7H491.7" stroke="#4c4cbc" stroke-width="1.1"/>
<path d="M482.2 321.1H487L484.6 324.9Z" fill="#0c0c84"/>
<text transform="translate(495.3,325.23) scale(1.0,0.88)" font-size="5.95" stroke="#1a1a1a" stroke-width="0.25">EAMP-Sema (po)</text>
<text transform="translate(423.4,357) scale(1.0,0.88)" text-anchor="middle" font-size="9.0" stroke="#1a1a1a" stroke-width="0.35">Time (Days)</text>
<text transform="translate(311.6,271) rotate(-90)" text-anchor="middle" font-size="8.95" stroke="#1a1a1a" stroke-width="0.3">Trigyceride level (% of Initial)</text>
<text transform="translate(318.1,188) scale(1.0,0.9)" font-size="12" stroke="#1a1a1a" stroke-width="0.3">(D)</text>
<path d="M55.4 429.64V431.7M53.4 429.64H57.4M53.4 431.7H57.4" stroke="#c0c890" stroke-width="0.8" fill="none"/>
<path d="M67.4 429.64V431.7M65.4 429.64H69.4M65.4 431.7H69.4" stroke="#c0c890" stroke-width="0.8" fill="none"/>
<path d="M91.4 429.64V431.7M89.4 429.64H93.4M89.4 431.7H93.4" stroke="#c0c890" stroke-width="0.8" fill="none"/>
<path d="M103.4 429.64V431.7M101.4 429.64H105.4M101.4 431.7H105.4" stroke="#c0c890" stroke-width="0.8" fill="none"/>
<path d="M133.4 429.95V432.01M131.4 429.95H135.4M131.4 432.01H135.4" stroke="#c0c890" stroke-width="0.8" fill="none"/>
<path d="M175.4 429.95V432.01M173.4 429.95H177.4M173.4 432.01H177.4" stroke="#c0c890" stroke-width="0.8" fill="none"/>
<path d="M211.4 429.02V431.08M209.4 429.02H213.4M209.4 431.08H213.4" stroke="#c0c890" stroke-width="0.8" fill="none"/>
<path d="M229.4 429.64V431.7M227.4 429.64H231.4M227.4 431.7H231.4" stroke="#c0c890" stroke-width="0.8" fill="none"/>
<path d="M55.4 431.91V436.02M53.4 431.91H57.4M53.4 436.02H57.4" stroke="#d8a8dc" stroke-width="0.8" fill="none"/>
<path d="M67.4 433.96V440.14M65.4 433.96H69.4M65.4 440.14H69.4" stroke="#d8a8dc" stroke-width="0.8" fill="none"/>
<path d="M91.4 440.24V450.53M89.4 440.24H93.4M89.4 450.53H93.4" stroke="#d8a8dc" stroke-width="0.8" fill="none"/>
<path d="M103.4 445.8V460.21M101.4 445.8H105.4M101.4 460.21H105.4" stroke="#d8a8dc" stroke-width="0.8" fill="none"/>
<path d="M133.4 465.05V469.16M131.4 465.05H135.4M131.4 469.16H135.4" stroke="#d8a8dc" stroke-width="0.8" fill="none"/>
<path d="M175.4 467.93V474.1M173.4 467.93H177.4M173.4 474.1H177.4" stroke="#d8a8dc" stroke-width="0.8" fill="none"/>
<path d="M211.4 472.35V478.53M209.4 472.35H213.4M209.4 478.53H213.4" stroke="#d8a8dc" stroke-width="0.8" fill="none"/>
<path d="M229.4 473.9V488.3M227.4 473.9H231.4M227.4 488.3H231.4" stroke="#d8a8dc" stroke-width="0.8" fill="none"/>
<path d="M55.4 430.16V432.21M53.4 430.16H57.4M53.4 432.21H57.4" stroke="#f8c890" stroke-width="0.8" fill="none"/>
<path d="M67.4 431.49V433.55M65.4 431.49H69.4M65.4 433.55H69.4" stroke="#f8c890" stroke-width="0.8" fill="none"/>
<path d="M91.4 431.49V433.55M89.4 431.49H93.4M89.4 433.55H93.4" stroke="#f8c890" stroke-width="0.8" fill="none"/>
<path d="M103.4 432.42V434.48M101.4 432.42H105.4M101.4 434.48H105.4" stroke="#f8c890" stroke-width="0.8" fill="none"/>
<path d="M133.4 432.73V434.79M131.4 432.73H135.4M131.4 434.79H135.4" stroke="#f8c890" stroke-width="0.8" fill="none"/>
<path d="M175.4 433.04V435.1M173.4 433.04H177.4M173.4 435.1H177.4" stroke="#f8c890" stroke-width="0.8" fill="none"/>
<path d="M211.4 434.07V436.13M209.4 434.07H213.4M209.4 436.13H213.4" stroke="#f8c890" stroke-width="0.8" fill="none"/>
<path d="M229.4 435.61V437.67M227.4 435.61H231.4M227.4 437.67H231.4" stroke="#f8c890" stroke-width="0.8" fill="none"/>
<path d="M55.4 430.67V432.73M53.4 430.67H57.4M53.4 432.73H57.4" stroke="#a8a8d8" stroke-width="0.8" fill="none"/>
<path d="M67.4 432.32V436.43M65.4 432.32H69.4M65.4 436.43H69.4" stroke="#a8a8d8" stroke-width="0.8" fill="none"/>
<path d="M91.4 434.38V440.55M89.4 434.38H93.4M89.4 440.55H93.4" stroke="#a8a8d8" stroke-width="0.8" fill="none"/>
<path d="M103.4 438.6V450.95M101.4 438.6H105.4M101.4 450.95H105.4" stroke="#a8a8d8" stroke-width="0.8" fill="none"/>
<path d="M133.4 442.09V456.5M131.4 442.09H135.4M131.4 456.5H135.4" stroke="#a8a8d8" stroke-width="0.8" fill="none"/>
<path d="M175.4 450.64V467.1M173.4 450.64H177.4M173.4 467.1H177.4" stroke="#a8a8d8" stroke-width="0.8" fill="none"/>
<path d="M211.4 459.18V471.53M209.4 459.18H213.4M209.4 471.53H213.4" stroke="#a8a8d8" stroke-width="0.8" fill="none"/>
<path d="M229.4 463.19V473.48M227.4 463.19H231.4M227.4 473.48H231.4" stroke="#a8a8d8" stroke-width="0.8" fill="none"/>
<polyline points="49.4,427.58 55.4,430.67 67.4,430.67 91.4,430.67 103.4,430.67 133.4,430.98 175.4,430.98 211.4,430.05 229.4,430.67" stroke="#9aa848" stroke-width="1.3" fill="none"/>
<polyline points="49.4,427.58 55.4,433.96 67.4,437.05 91.4,445.39 103.4,453 133.4,467.1 175.4,471.01 211.4,475.44 229.4,481.1" stroke="#b048b8" stroke-width="1.3" fill="none"/>
<polyline points="49.4,427.58 55.4,431.19 67.4,432.52 91.4,432.52 103.4,433.45 133.4,433.76 175.4,434.07 211.4,435.1 229.4,436.64" stroke="#f7a048" stroke-width="1.3" fill="none"/>
<polyline points="49.4,427.58 55.4,431.7 67.4,434.38 91.4,437.46 103.4,444.77 133.4,449.3 175.4,458.87 211.4,465.35 229.4,468.34" stroke="#4c4cbc" stroke-width="1.3" fill="none"/>
<circle cx="49.4" cy="427.58" r="2.15" fill="#6e7e14"/>
<circle cx="55.4" cy="430.67" r="2.15" fill="#6e7e14"/>
<circle cx="67.4" cy="430.67" r="2.15" fill="#6e7e14"/>
<circle cx="91.4" cy="430.67" r="2.15" fill="#6e7e14"/>
<circle cx="103.4" cy="430.67" r="2.15" fill="#6e7e14"/>
<circle cx="133.4" cy="430.98" r="2.15" fill="#6e7e14"/>
<circle cx="175.4" cy="430.98" r="2.15" fill="#6e7e14"/>
<circle cx="211.4" cy="430.05" r="2.15" fill="#6e7e14"/>
<circle cx="229.4" cy="430.67" r="2.15" fill="#6e7e14"/>
<circle cx="49.4" cy="427.58" r="2.15" fill="#880c8c"/>
<circle cx="55.4" cy="433.96" r="2.15" fill="#880c8c"/>
<circle cx="67.4" cy="437.05" r="2.15" fill="#880c8c"/>
<circle cx="91.4" cy="445.39" r="2.15" fill="#880c8c"/>
<circle cx="103.4" cy="453" r="2.15" fill="#880c8c"/>
<circle cx="133.4" cy="467.1" r="2.15" fill="#880c8c"/>
<circle cx="175.4" cy="471.01" r="2.15" fill="#880c8c"/>
<circle cx="211.4" cy="475.44" r="2.15" fill="#880c8c"/>
<circle cx="229.4" cy="481.1" r="2.15" fill="#880c8c"/>
<path d="M47 425.98H51.8L49.4 429.78Z" fill="#f07c1c"/>
<path d="M53 429.59H57.8L55.4 433.39Z" fill="#f07c1c"/>
<path d="M65 430.92H69.8L67.4 434.72Z" fill="#f07c1c"/>
<path d="M89 430.92H93.8L91.4 434.72Z" fill="#f07c1c"/>
<path d="M101 431.85H105.8L103.4 435.65Z" fill="#f07c1c"/>
<path d="M131 432.16H135.8L133.4 435.96Z" fill="#f07c1c"/>
<path d="M173 432.47H177.8L175.4 436.27Z" fill="#f07c1c"/>
<path d="M209 433.5H213.8L211.4 437.3Z" fill="#f07c1c"/>
<path d="M227 435.04H231.8L229.4 438.84Z" fill="#f07c1c"/>
<path d="M47 425.98H51.8L49.4 429.78Z" fill="#0c0c84"/>
<path d="M53 430.1H57.8L55.4 433.9Z" fill="#0c0c84"/>
<path d="M65 432.78H69.8L67.4 436.58Z" fill="#0c0c84"/>
<path d="M89 435.86H93.8L91.4 439.66Z" fill="#0c0c84"/>
<path d="M101 443.17H105.8L103.4 446.97Z" fill="#0c0c84"/>
<path d="M131 447.7H135.8L133.4 451.5Z" fill="#0c0c84"/>
<path d="M173 457.27H177.8L175.4 461.07Z" fill="#0c0c84"/>
<path d="M209 463.75H213.8L211.4 467.55Z" fill="#0c0c84"/>
<path d="M227 466.74H231.8L229.4 470.54Z" fill="#0c0c84"/>
<path d="M49.4 407V530.5H229.4" stroke="#262626" stroke-width="1.8" fill="none"/>
<text transform="translate(44.33,533.28) scale(0.95,1.0)" text-anchor="end" letter-spacing="0.35" font-size="7.1" stroke="#1a1a1a" stroke-width="0.4">0</text>
<text transform="translate(44.33,512.7) scale(0.95,1.0)" text-anchor="end" letter-spacing="0.35" font-size="7.1" stroke="#1a1a1a" stroke-width="0.4">20</text>
<text transform="translate(44.33,492.11) scale(0.95,1.0)" text-anchor="end" letter-spacing="0.35" font-size="7.1" stroke="#1a1a1a" stroke-width="0.4">40</text>
<text transform="translate(44.33,471.53) scale(0.95,1.0)" text-anchor="end" letter-spacing="0.35" font-size="7.1" stroke="#1a1a1a" stroke-width="0.4">60</text>
<text transform="translate(44.33,450.95) scale(0.95,1.0)" text-anchor="end" letter-spacing="0.35" font-size="7.1" stroke="#1a1a1a" stroke-width="0.4">80</text>
<text transform="translate(44.33,430.36) scale(0.95,1.0)" text-anchor="end" letter-spacing="0.35" font-size="7.1" stroke="#1a1a1a" stroke-width="0.4">100</text>
<text transform="translate(44.33,409.78) scale(0.95,1.0)" text-anchor="end" letter-spacing="0.35" font-size="7.1" stroke="#1a1a1a" stroke-width="0.4">120</text>
<text transform="translate(49.57,541.88) scale(0.95,1.0)" text-anchor="middle" letter-spacing="0.35" font-size="7.1" stroke="#1a1a1a" stroke-width="0.4">0</text>
<text transform="translate(79.57,541.88) scale(0.95,1.0)" text-anchor="middle" letter-spacing="0.35" font-size="7.1" stroke="#1a1a1a" stroke-width="0.4">5</text>
<text transform="translate(109.57,541.88) scale(0.95,1.0)" text-anchor="middle" letter-spacing="0.35" font-size="7.1" stroke="#1a1a1a" stroke-width="0.4">10</text>
<text transform="translate(139.57,541.88) scale(0.95,1.0)" text-anchor="middle" letter-spacing="0.35" font-size="7.1" stroke="#1a1a1a" stroke-width="0.4">15</text>
<text transform="translate(169.57,541.88) scale(0.95,1.0)" text-anchor="middle" letter-spacing="0.35" font-size="7.1" stroke="#1a1a1a" stroke-width="0.4">20</text>
<text transform="translate(199.57,541.88) scale(0.95,1.0)" text-anchor="middle" letter-spacing="0.35" font-size="7.1" stroke="#1a1a1a" stroke-width="0.4">25</text>
<text transform="translate(229.57,541.88) scale(0.95,1.0)" text-anchor="middle" letter-spacing="0.35" font-size="7.1" stroke="#1a1a1a" stroke-width="0.4">30</text>
<path d="M46.9 530.5H49.4M46.9 509.92H49.4M46.9 489.33H49.4M46.9 468.75H49.4M46.9 448.17H49.4M46.9 427.58H49.4M46.9 407H49.4M49.4 530.5V533M79.4 530.5V533M109.4 530.5V533M139.4 530.5V533M169.4 530.5V533M199.4 530.5V533M229.4 530.5V533" stroke="#1a1a1a" stroke-width="1" fill="none"/>
<path d="M199.6 500.4H212.4" stroke="#9aa848" stroke-width="1.1"/>
<circle cx="206" cy="500.4" r="2.15" fill="#6e7e14"/>
<text transform="translate(216.4,502.93) scale(1.0,0.88)" font-size="5.95" stroke="#1a1a1a" stroke-width="0.25">Saline (sc)</text>
<path d="M199.6 507H212.4" stroke="#b048b8" stroke-width="1.1"/>
<circle cx="206" cy="507" r="2.15" fill="#880c8c"/>
<text transform="translate(216.4,509.53) scale(1.0,0.88)" font-size="5.95" stroke="#1a1a1a" stroke-width="0.25">Sema (sc)</text>
<path d="M199.6 514.4H212.4" stroke="#f7a048" stroke-width="1.1"/>
<path d="M203.6 512.8H208.4L206 516.6Z" fill="#f07c1c"/>
<text transform="translate(216.4,516.93) scale(1.0,0.88)" font-size="5.95" stroke="#1a1a1a" stroke-width="0.25">Sema (po)</text>
<path d="M199.6 521.4H212.4" stroke="#4c4cbc" stroke-width="1.1"/>
<path d="M203.6 519.8H208.4L206 523.6Z" fill="#0c0c84"/>
<text transform="translate(216.4,523.93) scale(1.0,0.88)" font-size="5.95" stroke="#1a1a1a" stroke-width="0.25">EAMP-Sema (po)</text>
<text transform="translate(139.7,554.3) scale(1.0,0.88)" text-anchor="middle" font-size="7.8" stroke="#1a1a1a" stroke-width="0.35">Time (Days)</text>
<text transform="translate(18.2,469.5) rotate(-90)" text-anchor="middle" font-size="8.85" stroke="#1a1a1a" stroke-width="0.3">Water consumption</text>
<text transform="translate(26.6,468.6) rotate(-90)" text-anchor="middle" font-size="8.9" stroke="#1a1a1a" stroke-width="0.3">(% of Initial)</text>
<text transform="translate(31.1,392) scale(1.0,0.9)" font-size="12" stroke="#1a1a1a" stroke-width="0.3">(E)</text>
<path d="M341.41 434.91V438.95M339.41 434.91H343.41M339.41 438.95H343.41" stroke="#c0c890" stroke-width="0.8" fill="none"/>
<path d="M353.42 432.07V438.14M351.42 432.07H355.42M351.42 438.14H355.42" stroke="#c0c890" stroke-width="0.8" fill="none"/>
<path d="M377.45 433.08V437.13M375.45 433.08H379.45M375.45 437.13H379.45" stroke="#c0c890" stroke-width="0.8" fill="none"/>
<path d="M389.46 432.17V436.22M387.46 432.17H391.46M387.46 436.22H391.46" stroke="#c0c890" stroke-width="0.8" fill="none"/>
<path d="M419.49 431.36V437.43M417.49 431.36H421.49M417.49 437.43H421.49" stroke="#c0c890" stroke-width="0.8" fill="none"/>
<path d="M461.54 434.7V438.75M459.54 434.7H463.54M459.54 438.75H463.54" stroke="#c0c890" stroke-width="0.8" fill="none"/>
<path d="M497.58 432.48V438.55M495.58 432.48H499.58M495.58 438.55H499.58" stroke="#c0c890" stroke-width="0.8" fill="none"/>
<path d="M515.6 433.49V437.54M513.6 433.49H517.6M513.6 437.54H517.6" stroke="#c0c890" stroke-width="0.8" fill="none"/>
<path d="M341.41 432.28V434.3M339.41 432.28H343.41M339.41 434.3H343.41" stroke="#d8a8dc" stroke-width="0.8" fill="none"/>
<path d="M353.42 440.57V442.59M351.42 440.57H355.42M351.42 442.59H355.42" stroke="#d8a8dc" stroke-width="0.8" fill="none"/>
<path d="M377.45 444.11V448.16M375.45 444.11H379.45M375.45 448.16H379.45" stroke="#d8a8dc" stroke-width="0.8" fill="none"/>
<path d="M389.46 450.18V454.23M387.46 450.18H391.46M387.46 454.23H391.46" stroke="#d8a8dc" stroke-width="0.8" fill="none"/>
<path d="M419.49 454.94V458.98M417.49 454.94H421.49M417.49 458.98H421.49" stroke="#d8a8dc" stroke-width="0.8" fill="none"/>
<path d="M461.54 462.42V470.52M459.54 462.42H463.54M459.54 470.52H463.54" stroke="#d8a8dc" stroke-width="0.8" fill="none"/>
<path d="M497.58 468.49V476.59M495.58 468.49H499.58M495.58 476.59H499.58" stroke="#d8a8dc" stroke-width="0.8" fill="none"/>
<path d="M515.6 474.56V480.63M513.6 474.56H517.6M513.6 480.63H517.6" stroke="#d8a8dc" stroke-width="0.8" fill="none"/>
<path d="M341.41 432.28V434.3M339.41 432.28H343.41M339.41 434.3H343.41" stroke="#f8c890" stroke-width="0.8" fill="none"/>
<path d="M353.42 433.49V437.54M351.42 433.49H355.42M351.42 437.54H355.42" stroke="#f8c890" stroke-width="0.8" fill="none"/>
<path d="M377.45 434.4V438.45M375.45 434.4H379.45M375.45 438.45H379.45" stroke="#f8c890" stroke-width="0.8" fill="none"/>
<path d="M389.46 435.31V439.36M387.46 435.31H391.46M387.46 439.36H391.46" stroke="#f8c890" stroke-width="0.8" fill="none"/>
<path d="M419.49 435.82V439.86M417.49 435.82H421.49M417.49 439.86H421.49" stroke="#f8c890" stroke-width="0.8" fill="none"/>
<path d="M461.54 436.12V440.17M459.54 436.12H463.54M459.54 440.17H463.54" stroke="#f8c890" stroke-width="0.8" fill="none"/>
<path d="M497.58 435.51V439.56M495.58 435.51H499.58M495.58 439.56H499.58" stroke="#f8c890" stroke-width="0.8" fill="none"/>
<path d="M515.6 436.12V440.17M513.6 436.12H517.6M513.6 440.17H517.6" stroke="#f8c890" stroke-width="0.8" fill="none"/>
<path d="M341.41 431.67V433.69M339.41 431.67H343.41M339.41 433.69H343.41" stroke="#a8a8d8" stroke-width="0.8" fill="none"/>
<path d="M353.42 432.68V436.73M351.42 432.68H355.42M351.42 436.73H355.42" stroke="#a8a8d8" stroke-width="0.8" fill="none"/>
<path d="M377.45 437.64V441.68M375.45 437.64H379.45M375.45 441.68H379.45" stroke="#a8a8d8" stroke-width="0.8" fill="none"/>
<path d="M389.46 444.72V448.77M387.46 444.72H391.46M387.46 448.77H391.46" stroke="#a8a8d8" stroke-width="0.8" fill="none"/>
<path d="M419.49 448.66V452.71M417.49 448.66H421.49M417.49 452.71H421.49" stroke="#a8a8d8" stroke-width="0.8" fill="none"/>
<path d="M461.54 454.33V458.38M459.54 454.33H463.54M459.54 458.38H463.54" stroke="#a8a8d8" stroke-width="0.8" fill="none"/>
<path d="M497.58 459.39V465.46M495.58 459.39H499.58M495.58 465.46H499.58" stroke="#a8a8d8" stroke-width="0.8" fill="none"/>
<path d="M515.6 461.01V467.08M513.6 461.01H517.6M513.6 467.08H517.6" stroke="#a8a8d8" stroke-width="0.8" fill="none"/>
<polyline points="335.4,428.63 341.41,436.93 353.42,435.11 377.45,435.11 389.46,434.2 419.49,434.4 461.54,436.73 497.58,435.51 515.6,435.51" stroke="#9aa848" stroke-width="1.3" fill="none"/>
<polyline points="335.4,428.63 341.41,433.29 353.42,441.58 377.45,446.14 389.46,452.21 419.49,456.96 461.54,466.47 497.58,472.54 515.6,477.6" stroke="#b048b8" stroke-width="1.3" fill="none"/>
<polyline points="335.4,428.63 341.41,433.29 353.42,435.51 377.45,436.42 389.46,437.33 419.49,437.84 461.54,438.14 497.58,437.54 515.6,438.14" stroke="#f7a048" stroke-width="1.3" fill="none"/>
<polyline points="335.4,428.63 341.41,432.68 353.42,434.7 377.45,439.66 389.46,446.74 419.49,450.69 461.54,456.35 497.58,462.42 515.6,464.04" stroke="#4c4cbc" stroke-width="1.3" fill="none"/>
<circle cx="335.4" cy="428.63" r="2.15" fill="#6e7e14"/>
<circle cx="341.41" cy="436.93" r="2.15" fill="#6e7e14"/>
<circle cx="353.42" cy="435.11" r="2.15" fill="#6e7e14"/>
<circle cx="377.45" cy="435.11" r="2.15" fill="#6e7e14"/>
<circle cx="389.46" cy="434.2" r="2.15" fill="#6e7e14"/>
<circle cx="419.49" cy="434.4" r="2.15" fill="#6e7e14"/>
<circle cx="461.54" cy="436.73" r="2.15" fill="#6e7e14"/>
<circle cx="497.58" cy="435.51" r="2.15" fill="#6e7e14"/>
<circle cx="515.6" cy="435.51" r="2.15" fill="#6e7e14"/>
<circle cx="335.4" cy="428.63" r="2.15" fill="#880c8c"/>
<circle cx="341.41" cy="433.29" r="2.15" fill="#880c8c"/>
<circle cx="353.42" cy="441.58" r="2.15" fill="#880c8c"/>
<circle cx="377.45" cy="446.14" r="2.15" fill="#880c8c"/>
<circle cx="389.46" cy="452.21" r="2.15" fill="#880c8c"/>
<circle cx="419.49" cy="456.96" r="2.15" fill="#880c8c"/>
<circle cx="461.54" cy="466.47" r="2.15" fill="#880c8c"/>
<circle cx="497.58" cy="472.54" r="2.15" fill="#880c8c"/>
<circle cx="515.6" cy="477.6" r="2.15" fill="#880c8c"/>
<path d="M333 427.03H337.8L335.4 430.83Z" fill="#f07c1c"/>
<path d="M339.01 431.69H343.81L341.41 435.49Z" fill="#f07c1c"/>
<path d="M351.02 433.91H355.82L353.42 437.71Z" fill="#f07c1c"/>
<path d="M375.05 434.82H379.85L377.45 438.62Z" fill="#f07c1c"/>
<path d="M387.06 435.73H391.86L389.46 439.53Z" fill="#f07c1c"/>
<path d="M417.09 436.24H421.89L419.49 440.04Z" fill="#f07c1c"/>
<path d="M459.14 436.54H463.94L461.54 440.34Z" fill="#f07c1c"/>
<path d="M495.18 435.94H499.98L497.58 439.74Z" fill="#f07c1c"/>
<path d="M513.2 436.54H518L515.6 440.34Z" fill="#f07c1c"/>
<path d="M333 427.03H337.8L335.4 430.83Z" fill="#0c0c84"/>
<path d="M339.01 431.08H343.81L341.41 434.88Z" fill="#0c0c84"/>
<path d="M351.02 433.1H355.82L353.42 436.9Z" fill="#0c0c84"/>
<path d="M375.05 438.06H379.85L377.45 441.86Z" fill="#0c0c84"/>
<path d="M387.06 445.14H391.86L389.46 448.94Z" fill="#0c0c84"/>
<path d="M417.09 449.09H421.89L419.49 452.89Z" fill="#0c0c84"/>
<path d="M459.14 454.75H463.94L461.54 458.55Z" fill="#0c0c84"/>
<path d="M495.18 460.82H499.98L497.58 464.62Z" fill="#0c0c84"/>
<path d="M513.2 462.44H518L515.6 466.24Z" fill="#0c0c84"/>
<path d="M335.4 408.4V529.8H515.6" stroke="#262626" stroke-width="1.8" fill="none"/>
<text transform="translate(330.33,532.58) scale(0.95,1.0)" text-anchor="end" letter-spacing="0.35" font-size="7.1" stroke="#1a1a1a" stroke-width="0.4">0</text>
<text transform="translate(330.33,512.35) scale(0.95,1.0)" text-anchor="end" letter-spacing="0.35" font-size="7.1" stroke="#1a1a1a" stroke-width="0.4">20</text>
<text transform="translate(330.33,492.11) scale(0.95,1.0)" text-anchor="end" letter-spacing="0.35" font-size="7.1" stroke="#1a1a1a" stroke-width="0.4">40</text>
<text transform="translate(330.33,471.88) scale(0.95,1.0)" text-anchor="end" letter-spacing="0.35" font-size="7.1" stroke="#1a1a1a" stroke-width="0.4">60</text>
<text transform="translate(330.33,451.65) scale(0.95,1.0)" text-anchor="end" letter-spacing="0.35" font-size="7.1" stroke="#1a1a1a" stroke-width="0.4">80</text>
<text transform="translate(330.33,431.41) scale(0.95,1.0)" text-anchor="end" letter-spacing="0.35" font-size="7.1" stroke="#1a1a1a" stroke-width="0.4">100</text>
<text transform="translate(330.33,411.18) scale(0.95,1.0)" text-anchor="end" letter-spacing="0.35" font-size="7.1" stroke="#1a1a1a" stroke-width="0.4">120</text>
<text transform="translate(335.57,541.18) scale(0.95,1.0)" text-anchor="middle" letter-spacing="0.35" font-size="7.1" stroke="#1a1a1a" stroke-width="0.4">0</text>
<text transform="translate(365.6,541.18) scale(0.95,1.0)" text-anchor="middle" letter-spacing="0.35" font-size="7.1" stroke="#1a1a1a" stroke-width="0.4">5</text>
<text transform="translate(395.63,541.18) scale(0.95,1.0)" text-anchor="middle" letter-spacing="0.35" font-size="7.1" stroke="#1a1a1a" stroke-width="0.4">10</text>
<text transform="translate(425.67,541.18) scale(0.95,1.0)" text-anchor="middle" letter-spacing="0.35" font-size="7.1" stroke="#1a1a1a" stroke-width="0.4">15</text>
<text transform="translate(455.7,541.18) scale(0.95,1.0)" text-anchor="middle" letter-spacing="0.35" font-size="7.1" stroke="#1a1a1a" stroke-width="0.4">20</text>
<text transform="translate(485.73,541.18) scale(0.95,1.0)" text-anchor="middle" letter-spacing="0.35" font-size="7.1" stroke="#1a1a1a" stroke-width="0.4">25</text>
<text transform="translate(515.77,541.18) scale(0.95,1.0)" text-anchor="middle" letter-spacing="0.35" font-size="7.1" stroke="#1a1a1a" stroke-width="0.4">30</text>
<path d="M332.9 529.8H335.4M332.9 509.57H335.4M332.9 489.33H335.4M332.9 469.1H335.4M332.9 448.87H335.4M332.9 428.63H335.4M332.9 408.4H335.4M335.4 529.8V532.3M365.43 529.8V532.3M395.47 529.8V532.3M425.5 529.8V532.3M455.53 529.8V532.3M485.57 529.8V532.3M515.6 529.8V532.3" stroke="#1a1a1a" stroke-width="1" fill="none"/>
<path d="M485.6 500.4H499.6" stroke="#9aa848" stroke-width="1.1"/>
<circle cx="492.6" cy="500.4" r="2.15" fill="#6e7e14"/>
<text transform="translate(502.8,502.93) scale(1.0,0.88)" font-size="5.95" stroke="#1a1a1a" stroke-width="0.25">Saline (sc)</text>
<path d="M485.6 507H499.6" stroke="#b048b8" stroke-width="1.1"/>
<circle cx="492.6" cy="507" r="2.15" fill="#880c8c"/>
<text transform="translate(502.8,509.53) scale(1.0,0.88)" font-size="5.95" stroke="#1a1a1a" stroke-width="0.25">Sema (sc)</text>
<path d="M485.6 514H499.6" stroke="#f7a048" stroke-width="1.1"/>
<path d="M490.2 512.4H495L492.6 516.2Z" fill="#f07c1c"/>
<text transform="translate(502.8,516.53) scale(1.0,0.88)" font-size="5.95" stroke="#1a1a1a" stroke-width="0.25">Sema (po)</text>
<path d="M485.6 521.4H499.6" stroke="#4c4cbc" stroke-width="1.1"/>
<path d="M490.2 519.8H495L492.6 523.6Z" fill="#0c0c84"/>
<text transform="translate(502.8,523.93) scale(1.0,0.88)" font-size="5.95" stroke="#1a1a1a" stroke-width="0.25">EAMP-Sema (po)</text>
<text transform="translate(426.2,554) scale(1.0,0.88)" text-anchor="middle" font-size="9.0" stroke="#1a1a1a" stroke-width="0.35">Time (Days)</text>
<text transform="translate(312,469) rotate(-90)" text-anchor="middle" font-size="8.65" stroke="#1a1a1a" stroke-width="0.3">Food intake (% of Initial)</text>
<text transform="translate(318.1,392) scale(1.0,0.9)" font-size="12" stroke="#1a1a1a" stroke-width="0.3">(F)</text>
<path d="M56.51 625.06V626.86M54.51 625.06H58.51M54.51 626.86H58.51" stroke="#c0c890" stroke-width="0.8" fill="none"/>
<path d="M68.34 623.72V625.51M66.34 623.72H70.34M66.34 625.51H70.34" stroke="#c0c890" stroke-width="0.8" fill="none"/>
<path d="M91.99 621.47V625.06M89.99 621.47H93.99M89.99 625.06H93.99" stroke="#c0c890" stroke-width="0.8" fill="none"/>
<path d="M103.82 620.13V623.72M101.82 620.13H105.82M101.82 623.72H105.82" stroke="#c0c890" stroke-width="0.8" fill="none"/>
<path d="M133.39 618.87V622.46M131.39 618.87H135.39M131.39 622.46H135.39" stroke="#c0c890" stroke-width="0.8" fill="none"/>
<path d="M174.78 614.3V619.68M172.78 614.3H176.78M172.78 619.68H176.78" stroke="#c0c890" stroke-width="0.8" fill="none"/>
<path d="M210.26 612.32V617.71M208.26 612.32H212.26M208.26 617.71H212.26" stroke="#c0c890" stroke-width="0.8" fill="none"/>
<path d="M228 610.44V617.62M226 610.44H230M226 617.62H230" stroke="#c0c890" stroke-width="0.8" fill="none"/>
<path d="M56.51 627.22V629.01M54.51 627.22H58.51M54.51 629.01H58.51" stroke="#d8a8dc" stroke-width="0.8" fill="none"/>
<path d="M68.34 629.1V630.89M66.34 629.1H70.34M66.34 630.89H70.34" stroke="#d8a8dc" stroke-width="0.8" fill="none"/>
<path d="M91.99 629.28V636.46M89.99 629.28H93.99M89.99 636.46H93.99" stroke="#d8a8dc" stroke-width="0.8" fill="none"/>
<path d="M103.82 633.95V639.33M101.82 633.95H105.82M101.82 639.33H105.82" stroke="#d8a8dc" stroke-width="0.8" fill="none"/>
<path d="M133.39 637.17V644.35M131.39 637.17H135.39M131.39 644.35H135.39" stroke="#d8a8dc" stroke-width="0.8" fill="none"/>
<path d="M174.78 640.23V650.99M172.78 640.23H176.78M172.78 650.99H176.78" stroke="#d8a8dc" stroke-width="0.8" fill="none"/>
<path d="M210.26 643.45V654.22M208.26 643.45H212.26M208.26 654.22H212.26" stroke="#d8a8dc" stroke-width="0.8" fill="none"/>
<path d="M228 646.33V657.09M226 646.33H230M226 657.09H230" stroke="#d8a8dc" stroke-width="0.8" fill="none"/>
<path d="M56.51 625.06V626.86M54.51 625.06H58.51M54.51 626.86H58.51" stroke="#f8c890" stroke-width="0.8" fill="none"/>
<path d="M68.34 624.17V625.96M66.34 624.17H70.34M66.34 625.96H70.34" stroke="#f8c890" stroke-width="0.8" fill="none"/>
<path d="M91.99 623.81V627.4M89.99 623.81H93.99M89.99 627.4H93.99" stroke="#f8c890" stroke-width="0.8" fill="none"/>
<path d="M103.82 621.74V625.33M101.82 621.74H105.82M101.82 625.33H105.82" stroke="#f8c890" stroke-width="0.8" fill="none"/>
<path d="M133.39 620.67V624.26M131.39 620.67H135.39M131.39 624.26H135.39" stroke="#f8c890" stroke-width="0.8" fill="none"/>
<path d="M174.78 618.78V624.17M172.78 618.78H176.78M172.78 624.17H176.78" stroke="#f8c890" stroke-width="0.8" fill="none"/>
<path d="M210.26 619.77V625.15M208.26 619.77H212.26M208.26 625.15H212.26" stroke="#f8c890" stroke-width="0.8" fill="none"/>
<path d="M228 619.41V624.79M226 619.41H230M226 624.79H230" stroke="#f8c890" stroke-width="0.8" fill="none"/>
<path d="M56.51 626.95V628.74M54.51 626.95H58.51M54.51 628.74H58.51" stroke="#a8a8d8" stroke-width="0.8" fill="none"/>
<path d="M68.34 627.84V629.64M66.34 627.84H70.34M66.34 629.64H70.34" stroke="#a8a8d8" stroke-width="0.8" fill="none"/>
<path d="M91.99 628.38V633.77M89.99 628.38H93.99M89.99 633.77H93.99" stroke="#a8a8d8" stroke-width="0.8" fill="none"/>
<path d="M103.82 632.87V638.25M101.82 632.87H105.82M101.82 638.25H105.82" stroke="#a8a8d8" stroke-width="0.8" fill="none"/>
<path d="M133.39 632.96V640.14M131.39 632.96H135.39M131.39 640.14H135.39" stroke="#a8a8d8" stroke-width="0.8" fill="none"/>
<path d="M174.78 636.01V643.19M172.78 636.01H176.78M172.78 643.19H176.78" stroke="#a8a8d8" stroke-width="0.8" fill="none"/>
<path d="M210.26 637.62V644.8M208.26 637.62H212.26M208.26 644.8H212.26" stroke="#a8a8d8" stroke-width="0.8" fill="none"/>
<path d="M228 639.24V646.42M226 639.24H230M226 646.42H230" stroke="#a8a8d8" stroke-width="0.8" fill="none"/>
<polyline points="50.6,627.49 56.51,625.96 68.34,624.61 91.99,623.27 103.82,621.92 133.39,620.67 174.78,616.99 210.26,615.02 228,614.03" stroke="#9aa848" stroke-width="1.3" fill="none"/>
<polyline points="50.6,627.49 56.51,628.11 68.34,630 91.99,632.87 103.82,636.64 133.39,640.76 174.78,645.61 210.26,648.84 228,651.71" stroke="#b048b8" stroke-width="1.3" fill="none"/>
<polyline points="50.6,627.49 56.51,625.96 68.34,625.06 91.99,625.6 103.82,623.54 133.39,622.46 174.78,621.47 210.26,622.46 228,622.1" stroke="#f7a048" stroke-width="1.3" fill="none"/>
<polyline points="50.6,627.49 56.51,627.84 68.34,628.74 91.99,631.07 103.82,635.56 133.39,636.55 174.78,639.6 210.26,641.21 228,642.83" stroke="#4c4cbc" stroke-width="1.3" fill="none"/>
<circle cx="50.6" cy="627.49" r="2.15" fill="#6e7e14"/>
<circle cx="56.51" cy="625.96" r="2.15" fill="#6e7e14"/>
<circle cx="68.34" cy="624.61" r="2.15" fill="#6e7e14"/>
<circle cx="91.99" cy="623.27" r="2.15" fill="#6e7e14"/>
<circle cx="103.82" cy="621.92" r="2.15" fill="#6e7e14"/>
<circle cx="133.39" cy="620.67" r="2.15" fill="#6e7e14"/>
<circle cx="174.78" cy="616.99" r="2.15" fill="#6e7e14"/>
<circle cx="210.26" cy="615.02" r="2.15" fill="#6e7e14"/>
<circle cx="228" cy="614.03" r="2.15" fill="#6e7e14"/>
<circle cx="50.6" cy="627.49" r="2.15" fill="#880c8c"/>
<circle cx="56.51" cy="628.11" r="2.15" fill="#880c8c"/>
<circle cx="68.34" cy="630" r="2.15" fill="#880c8c"/>
<circle cx="91.99" cy="632.87" r="2.15" fill="#880c8c"/>
<circle cx="103.82" cy="636.64" r="2.15" fill="#880c8c"/>
<circle cx="133.39" cy="640.76" r="2.15" fill="#880c8c"/>
<circle cx="174.78" cy="645.61" r="2.15" fill="#880c8c"/>
<circle cx="210.26" cy="648.84" r="2.15" fill="#880c8c"/>
<circle cx="228" cy="651.71" r="2.15" fill="#880c8c"/>
<path d="M48.2 625.89H53L50.6 629.69Z" fill="#f07c1c"/>
<path d="M54.11 624.36H58.91L56.51 628.16Z" fill="#f07c1c"/>
<path d="M65.94 623.46H70.74L68.34 627.26Z" fill="#f07c1c"/>
<path d="M89.59 624H94.39L91.99 627.8Z" fill="#f07c1c"/>
<path d="M101.42 621.94H106.22L103.82 625.74Z" fill="#f07c1c"/>
<path d="M130.99 620.86H135.79L133.39 624.66Z" fill="#f07c1c"/>
<path d="M172.38 619.87H177.18L174.78 623.67Z" fill="#f07c1c"/>
<path d="M207.86 620.86H212.66L210.26 624.66Z" fill="#f07c1c"/>
<path d="M225.6 620.5H230.4L228 624.3Z" fill="#f07c1c"/>
<path d="M48.2 625.89H53L50.6 629.69Z" fill="#0c0c84"/>
<path d="M54.11 626.24H58.91L56.51 630.04Z" fill="#0c0c84"/>
<path d="M65.94 627.14H70.74L68.34 630.94Z" fill="#0c0c84"/>
<path d="M89.59 629.47H94.39L91.99 633.27Z" fill="#0c0c84"/>
<path d="M101.42 633.96H106.22L103.82 637.76Z" fill="#0c0c84"/>
<path d="M130.99 634.95H135.79L133.39 638.75Z" fill="#0c0c84"/>
<path d="M172.38 638H177.18L174.78 641.8Z" fill="#0c0c84"/>
<path d="M207.86 639.61H212.66L210.26 643.41Z" fill="#0c0c84"/>
<path d="M225.6 641.23H230.4L228 645.03Z" fill="#0c0c84"/>
<path d="M50.6 591.6V717.2H228" stroke="#262626" stroke-width="1.8" fill="none"/>
<text transform="translate(45.53,719.98) scale(0.95,1.0)" text-anchor="end" letter-spacing="0.35" font-size="7.1" stroke="#1a1a1a" stroke-width="0.4">0</text>
<text transform="translate(45.53,702.04) scale(0.95,1.0)" text-anchor="end" letter-spacing="0.35" font-size="7.1" stroke="#1a1a1a" stroke-width="0.4">20</text>
<text transform="translate(45.53,684.09) scale(0.95,1.0)" text-anchor="end" letter-spacing="0.35" font-size="7.1" stroke="#1a1a1a" stroke-width="0.4">40</text>
<text transform="translate(45.53,666.15) scale(0.95,1.0)" text-anchor="end" letter-spacing="0.35" font-size="7.1" stroke="#1a1a1a" stroke-width="0.4">60</text>
<text transform="translate(45.53,648.21) scale(0.95,1.0)" text-anchor="end" letter-spacing="0.35" font-size="7.1" stroke="#1a1a1a" stroke-width="0.4">80</text>
<text transform="translate(45.53,630.26) scale(0.95,1.0)" text-anchor="end" letter-spacing="0.35" font-size="7.1" stroke="#1a1a1a" stroke-width="0.4">100</text>
<text transform="translate(45.53,612.32) scale(0.95,1.0)" text-anchor="end" letter-spacing="0.35" font-size="7.1" stroke="#1a1a1a" stroke-width="0.4">120</text>
<text transform="translate(45.53,594.38) scale(0.95,1.0)" text-anchor="end" letter-spacing="0.35" font-size="7.1" stroke="#1a1a1a" stroke-width="0.4">140</text>
<text transform="translate(50.77,728.58) scale(0.95,1.0)" text-anchor="middle" letter-spacing="0.35" font-size="7.1" stroke="#1a1a1a" stroke-width="0.4">0</text>
<text transform="translate(80.33,728.58) scale(0.95,1.0)" text-anchor="middle" letter-spacing="0.35" font-size="7.1" stroke="#1a1a1a" stroke-width="0.4">5</text>
<text transform="translate(109.9,728.58) scale(0.95,1.0)" text-anchor="middle" letter-spacing="0.35" font-size="7.1" stroke="#1a1a1a" stroke-width="0.4">10</text>
<text transform="translate(139.47,728.58) scale(0.95,1.0)" text-anchor="middle" letter-spacing="0.35" font-size="7.1" stroke="#1a1a1a" stroke-width="0.4">15</text>
<text transform="translate(169.03,728.58) scale(0.95,1.0)" text-anchor="middle" letter-spacing="0.35" font-size="7.1" stroke="#1a1a1a" stroke-width="0.4">20</text>
<text transform="translate(198.6,728.58) scale(0.95,1.0)" text-anchor="middle" letter-spacing="0.35" font-size="7.1" stroke="#1a1a1a" stroke-width="0.4">25</text>
<text transform="translate(228.17,728.58) scale(0.95,1.0)" text-anchor="middle" letter-spacing="0.35" font-size="7.1" stroke="#1a1a1a" stroke-width="0.4">30</text>
<path d="M48.1 717.2H50.6M48.1 699.26H50.6M48.1 681.31H50.6M48.1 663.37H50.6M48.1 645.43H50.6M48.1 627.49H50.6M48.1 609.54H50.6M48.1 591.6H50.6M50.6 717.2V719.7M80.17 717.2V719.7M109.73 717.2V719.7M139.3 717.2V719.7M168.87 717.2V719.7M198.43 717.2V719.7M228 717.2V719.7" stroke="#1a1a1a" stroke-width="1" fill="none"/>
<path d="M199 687.9H213" stroke="#9aa848" stroke-width="1.1"/>
<circle cx="206" cy="687.9" r="2.15" fill="#6e7e14"/>
<text transform="translate(216.6,690.43) scale(1.0,0.88)" font-size="5.95" stroke="#1a1a1a" stroke-width="0.25">Saline (sc)</text>
<path d="M199 694.4H213" stroke="#b048b8" stroke-width="1.1"/>
<circle cx="206" cy="694.4" r="2.15" fill="#880c8c"/>
<text transform="translate(216.6,696.93) scale(1.0,0.88)" font-size="5.95" stroke="#1a1a1a" stroke-width="0.25">Sema (sc)</text>
<path d="M199 701H213" stroke="#f7a048" stroke-width="1.1"/>
<path d="M203.6 699.4H208.4L206 703.2Z" fill="#f07c1c"/>
<text transform="translate(216.6,703.53) scale(1.0,0.88)" font-size="5.95" stroke="#1a1a1a" stroke-width="0.25">Sema (po)</text>
<path d="M199 708.1H213" stroke="#4c4cbc" stroke-width="1.1"/>
<path d="M203.6 706.5H208.4L206 710.3Z" fill="#0c0c84"/>
<text transform="translate(216.6,710.63) scale(1.0,0.88)" font-size="5.95" stroke="#1a1a1a" stroke-width="0.25">EAMP-Sema (po)</text>
<text transform="translate(139.6,741.8) scale(1.0,0.88)" text-anchor="middle" font-size="7.8" stroke="#1a1a1a" stroke-width="0.35">Time (Days)</text>
<text transform="translate(28,654) rotate(-90)" text-anchor="middle" font-size="8.95" stroke="#1a1a1a" stroke-width="0.3">Body weight (% of Initial)</text>
<text transform="translate(31.1,570.2) scale(1.0,0.9)" font-size="12" stroke="#1a1a1a" stroke-width="0.3">(G)</text>
</svg>
</body></html>
